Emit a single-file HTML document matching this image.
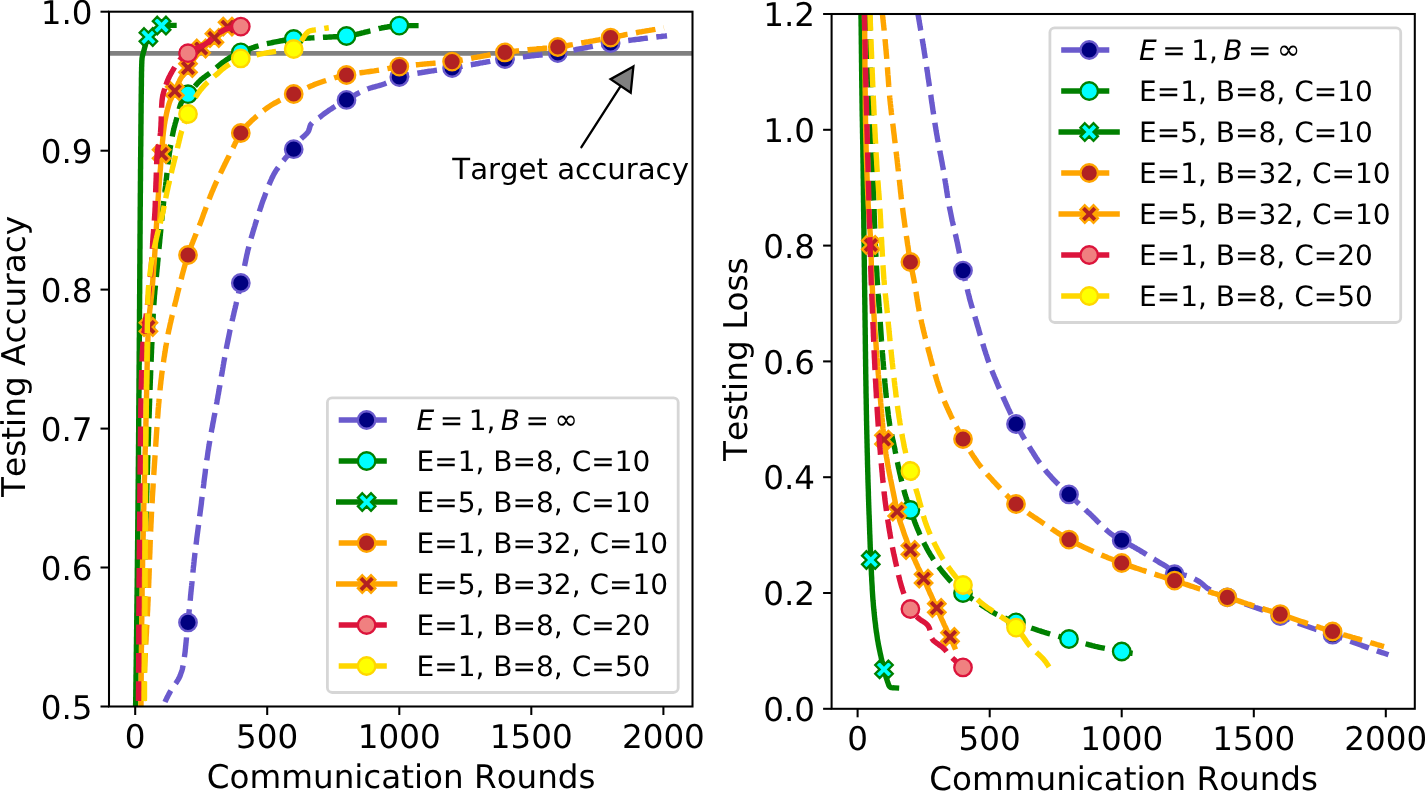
<!DOCTYPE html>
<html lang="en">
<head>
<meta charset="utf-8">
<title>Testing accuracy and loss vs communication rounds</title>
<style>html,body{margin:0;padding:0;background:#fff;}body{width:1425px;height:791px;overflow:hidden;}svg{display:block;}</style>
</head>
<body>
<svg width="1425" height="791" viewBox="0 0 1425 791" font-family='"DejaVu Sans", "Liberation Sans", sans-serif' fill="#000" text-rendering="geometricPrecision" style="font-kerning:none">
<defs>
<clipPath id="cl"><rect x="109.0" y="11.7" width="583.5" height="694.8"/></clipPath>
<clipPath id="cr"><rect x="831.6" y="14.0" width="583.2" height="694.8"/></clipPath>
</defs>
<rect width="1425" height="791" fill="#fff"/>
<g clip-path="url(#cl)">
<line x1="109.0" y1="53.4" x2="692.5" y2="53.4" stroke="#808080" stroke-width="4.7"/>
<path d="M165.0 702.0L165.6 700.6L166.3 699.3L166.9 697.9L167.6 696.6L168.3 695.2L169.0 693.9L169.7 692.6L170.4 691.3L171.2 690.0L172.0 688.7L172.9 687.5L173.8 686.2L174.6 685.0L175.5 683.7L176.4 682.5L177.2 681.2L178.0 679.9L178.7 678.7L179.4 677.3L180.0 676.0L180.5 674.6L181.0 673.2L181.5 671.8L182.0 670.3L182.4 668.9L182.7 667.4L183.0 665.9L183.3 664.5L183.5 663.0L183.8 661.5L184.0 660.0L184.2 658.6L184.4 657.1L184.6 655.6L184.8 654.1L185.0 652.6L185.2 651.1L185.3 649.6L185.5 648.1L185.6 646.7L185.8 645.2L185.9 643.7L186.1 642.1L186.2 640.6L186.4 639.1L186.5 637.6L186.6 636.1L186.8 634.6L186.9 633.1L187.1 631.6L187.2 630.1L187.3 628.6L187.5 627.1L187.6 625.6L187.8 624.1L187.9 622.6L188.1 621.1L188.2 619.6L188.4 618.1L188.6 616.7L188.7 615.2L188.9 613.7L189.0 612.2L189.2 610.7L189.3 609.2L189.5 607.7L189.6 606.2L189.8 604.7L189.9 603.2L190.1 601.7L190.2 600.2L190.4 598.7L190.5 597.2L190.6 595.7L190.8 594.2L190.9 592.7L191.1 591.2L191.2 589.7L191.4 588.2L191.5 586.7L191.7 585.3L191.8 583.8L192.0 582.3L192.1 580.8L192.3 579.3L192.4 577.8L192.6 576.3L192.7 574.8L192.9 573.3L193.0 571.8L193.1 570.3L193.3 568.8L193.4 567.3L193.6 565.8L193.8 564.3L193.9 562.8L194.1 561.3L194.2 559.8L194.4 558.3L194.6 556.9L194.7 555.4L194.9 553.9L195.1 552.4L195.3 550.9L195.5 549.4L195.6 547.9L195.8 546.4L196.0 544.9L196.2 543.4L196.4 541.9L196.6 540.4L196.7 539.0L196.9 537.5L197.1 536.0L197.3 534.5L197.5 533.0L197.7 531.5L197.9 530.0L198.1 528.5L198.3 527.0L198.5 525.5L198.7 524.1L198.9 522.6L199.1 521.1L199.2 519.6L199.4 518.1L199.6 516.6L199.8 515.1L200.0 513.6L200.2 512.1L200.4 510.6L200.6 509.2L200.8 507.7L201.0 506.2L201.2 504.7L201.4 503.2L201.5 501.7L201.7 500.2L201.9 498.7L202.1 497.2L202.3 495.7L202.5 494.2L202.7 492.7L202.8 491.3L203.0 489.8L203.2 488.3L203.4 486.8L203.6 485.3L203.8 483.8L203.9 482.3L204.1 480.8L204.3 479.3L204.5 477.8L204.7 476.3L204.9 474.8L205.1 473.4L205.3 471.9L205.4 470.4L205.6 468.9L205.8 467.4L206.0 465.9L206.2 464.4L206.4 462.9L206.6 461.4L206.8 460.0L207.1 458.5L207.3 457.0L207.5 455.5L207.7 454.0L207.9 452.5L208.1 451.0L208.4 449.6L208.6 448.1L208.8 446.6L209.1 445.1L209.3 443.6L209.6 442.1L209.8 440.7L210.1 439.2L210.3 437.7L210.6 436.2L210.8 434.7L211.1 433.3L211.4 431.8L211.6 430.3L211.9 428.8L212.2 427.4L212.5 425.9L212.7 424.4L213.0 422.9L213.3 421.4L213.6 420.0L213.8 418.5L214.1 417.0L214.4 415.5L214.7 414.1L214.9 412.6L215.2 411.1L215.5 409.6L215.8 408.1L216.0 406.7L216.3 405.2L216.6 403.7L216.9 402.2L217.1 400.8L217.4 399.3L217.7 397.8L217.9 396.3L218.2 394.8L218.5 393.4L218.7 391.9L219.0 390.4L219.2 388.9L219.5 387.4L219.8 386.0L220.0 384.5L220.3 383.0L220.5 381.5L220.8 380.0L221.0 378.6L221.3 377.1L221.5 375.6L221.8 374.1L222.1 372.6L222.3 371.1L222.6 369.7L222.8 368.2L223.1 366.7L223.3 365.2L223.6 363.7L223.8 362.3L224.1 360.8L224.4 359.3L224.6 357.8L224.9 356.3L225.2 354.9L225.4 353.4L225.7 351.9L226.0 350.4L226.3 349.0L226.5 347.5L226.8 346.0L227.1 344.5L227.4 343.1L227.7 341.6L228.0 340.1L228.3 338.6L228.6 337.2L228.9 335.7L229.2 334.2L229.5 332.8L229.8 331.3L230.1 329.8L230.5 328.4L230.8 326.9L231.1 325.4L231.4 324.0L231.8 322.5L232.1 321.0L232.4 319.6L232.8 318.1L233.1 316.6L233.5 315.2L233.8 313.7L234.1 312.2L234.5 310.8L234.8 309.3L235.2 307.9L235.5 306.4L235.9 304.9L236.2 303.5L236.5 302.0L236.9 300.5L237.2 299.1L237.6 297.6L237.9 296.1L238.3 294.7L238.6 293.2L239.0 291.8L239.3 290.3L239.6 288.8L240.0 287.4L240.3 285.9L240.7 284.4L241.0 283.0L241.3 281.5L241.6 280.0L242.0 278.6L242.3 277.1L242.6 275.6L242.9 274.2L243.2 272.7L243.5 271.2L243.8 269.7L244.1 268.3L244.4 266.8L244.7 265.3L245.0 263.8L245.3 262.4L245.6 260.9L245.9 259.4L246.2 258.0L246.5 256.5L246.8 255.0L247.2 253.6L247.5 252.1L247.8 250.6L248.2 249.2L248.6 247.7L248.9 246.3L249.3 244.8L249.7 243.4L250.1 241.9L250.5 240.5L250.9 239.0L251.3 237.6L251.7 236.1L252.2 234.7L252.6 233.2L253.0 231.8L253.4 230.4L253.9 228.9L254.3 227.5L254.8 226.0L255.2 224.6L255.6 223.2L256.1 221.7L256.5 220.3L257.0 218.9L257.4 217.4L257.9 216.0L258.3 214.6L258.8 213.1L259.3 211.7L259.7 210.3L260.2 208.9L260.7 207.4L261.2 206.0L261.6 204.6L262.1 203.2L262.6 201.7L263.1 200.3L263.7 198.9L264.2 197.5L264.7 196.1L265.2 194.7L265.7 193.3L266.3 191.9L266.8 190.4L267.3 189.0L267.9 187.6L268.4 186.2L269.0 184.8L269.6 183.4L270.2 182.0L270.8 180.6L271.4 179.3L272.0 177.9L272.7 176.6L273.3 175.3L274.0 174.0L274.8 172.7L275.5 171.4L276.3 170.1L277.2 168.9L278.0 167.7L278.9 166.4L279.8 165.2L280.7 164.0L281.7 162.8L282.6 161.6L283.6 160.5L284.5 159.3L285.5 158.1L286.4 157.0L287.4 155.9L288.5 154.8L289.5 153.7L290.6 152.6L291.6 151.5L292.6 150.4L293.6 149.2L294.5 148.0L295.3 146.8L296.2 145.6L297.0 144.3L297.8 143.0L298.7 141.8L299.5 140.6L300.5 139.4L301.6 138.3L302.7 137.3L303.9 136.2L305.0 135.2L306.1 134.1L307.1 133.0L308.0 131.9L308.7 130.7L309.2 129.2L309.6 127.7L310.0 126.2L310.5 124.9L311.3 123.8L312.3 122.7L313.4 121.8L314.6 120.8L315.9 119.9L317.2 119.0L318.5 118.1L319.8 117.2L320.9 116.3L322.1 115.3L323.3 114.4L324.5 113.5L325.7 112.6L327.0 111.8L328.2 110.9L329.4 110.0L330.7 109.2L331.9 108.4L333.2 107.5L334.4 106.8L335.7 106.0L337.0 105.2L338.3 104.4L339.6 103.7L340.9 103.0L342.2 102.2L343.6 101.5L344.9 100.8L346.2 100.0L347.5 99.3L348.8 98.5L350.1 97.8L351.4 97.0L352.7 96.3L354.0 95.5L355.3 94.8L356.7 94.0L358.0 93.3L359.3 92.6L360.7 91.9L362.0 91.2L363.4 90.6L364.7 90.0L366.1 89.5L367.5 88.9L368.9 88.5L370.3 88.0L371.8 87.6L373.2 87.2L374.7 86.8L376.1 86.4L377.6 86.0L379.1 85.6L380.5 85.2L381.9 84.7L383.4 84.2L384.8 83.7L386.1 83.1L387.5 82.5L388.9 81.8L390.2 81.1L391.6 80.4L392.9 79.7L394.3 79.0L395.6 78.4L397.0 77.8L398.4 77.3L399.8 76.9" fill="none" stroke="#6A5ACD" stroke-width="5.40" stroke-dasharray="19.8 8.5" stroke-dashoffset="7.0" stroke-linejoin="round"/>
<path d="M399.8 76.9L401.2 76.5L402.7 76.1L404.1 75.8L405.6 75.5L407.0 75.1L408.5 74.8L410.0 74.5L411.5 74.3L413.0 74.0L414.4 73.7L415.9 73.5L417.4 73.2L418.9 73.0L420.4 72.8L421.9 72.5L423.4 72.3L424.9 72.0L426.4 71.8L427.8 71.5L429.3 71.3L430.8 71.1L432.3 70.9L433.8 70.7L435.3 70.4L436.8 70.2L438.3 70.0L439.7 69.8L441.2 69.6L442.7 69.4L444.2 69.2L445.7 69.0L447.2 68.8L448.7 68.6L450.2 68.3L451.6 68.1" fill="none" stroke="#6A5ACD" stroke-width="5.40" stroke-dasharray="19.8 8.5" stroke-dashoffset="-18.0" stroke-linejoin="round"/>
<path d="M451.6 68.1L453.1 67.9L454.6 67.6L456.1 67.4L457.6 67.1L459.1 66.9L460.5 66.6L462.0 66.4L463.5 66.1L465.0 65.8L466.5 65.6L467.9 65.3L469.4 65.0L470.9 64.8L472.4 64.5L473.8 64.2L475.3 64.0L476.8 63.7L478.3 63.5L479.8 63.2L481.2 62.9L482.7 62.7L484.2 62.4L485.7 62.2L487.2 61.9L488.6 61.6L490.1 61.4L491.6 61.1L493.1 60.9L494.6 60.6L496.1 60.4L497.5 60.1L499.0 59.9L500.5 59.7L502.0 59.4L503.5 59.2L505.0 59.0" fill="none" stroke="#6A5ACD" stroke-width="5.40" stroke-dasharray="19.8 8.5" stroke-dashoffset="-19.5" stroke-linejoin="round"/>
<path d="M505.0 59.0L506.5 58.8L507.9 58.6L509.4 58.4L510.9 58.2L512.4 58.1L513.9 57.9L515.4 57.7L516.9 57.6L518.4 57.4L519.9 57.2L521.4 57.1L522.9 56.9L524.4 56.7L525.9 56.6L527.4 56.4L528.8 56.2L530.3 56.1L531.8 55.9L533.3 55.7L534.8 55.6L536.3 55.4L537.8 55.3L539.3 55.1L540.8 55.0L542.3 54.8L543.8 54.6L545.3 54.5L546.8 54.3L548.3 54.2L549.8 54.0L551.3 53.8L552.8 53.6L554.2 53.5L555.7 53.3L557.2 53.1" fill="none" stroke="#6A5ACD" stroke-width="5.40" stroke-dasharray="19.8 8.5" stroke-dashoffset="-18.0" stroke-linejoin="round"/>
<path d="M557.2 53.1L558.7 52.8L560.2 52.6L561.7 52.4L563.1 52.1L564.6 51.9L566.1 51.6L567.6 51.3L569.0 51.0L570.5 50.7L572.0 50.4L573.5 50.1L574.9 49.8L576.4 49.5L577.9 49.2L579.4 48.9L580.8 48.6L582.3 48.3L583.8 48.0L585.3 47.8L586.7 47.5L588.2 47.2L589.7 46.9L591.2 46.6L592.6 46.3L594.1 46.0L595.6 45.7L597.1 45.4L598.5 45.2L600.0 44.9L601.5 44.6L603.0 44.3L604.4 44.0L605.9 43.8L607.4 43.5L608.9 43.3L610.4 43.0" fill="none" stroke="#6A5ACD" stroke-width="5.40" stroke-dasharray="19.8 8.5" stroke-dashoffset="-16.5" stroke-linejoin="round"/>
<path d="M610.4 43.0L611.9 42.8L613.3 42.6L614.8 42.4L616.3 42.1L617.8 41.9L619.3 41.7L620.8 41.5L622.3 41.3L623.7 41.1L625.2 40.9L626.7 40.7L628.2 40.5L629.7 40.3L631.2 40.1L632.7 39.9L634.2 39.7L635.7 39.5L637.2 39.4L638.7 39.2L640.1 39.0L641.6 38.8L643.1 38.6L644.6 38.4L646.1 38.2L647.6 38.1L649.1 37.9L650.6 37.7L652.1 37.5L653.6 37.3L655.1 37.2L656.5 37.0L658.0 36.8L659.5 36.6L661.0 36.5L662.5 36.3L664.0 36.1L665.5 36.0L667.0 35.8" fill="none" stroke="#6A5ACD" stroke-width="5.40" stroke-dasharray="19.8 8.5" stroke-dashoffset="-18.0" stroke-linejoin="round"/>
<circle cx="188.0" cy="622.4" r="8.74" fill="#000080" stroke="#6A5ACD" stroke-width="2.33"/>
<circle cx="240.8" cy="283.0" r="8.74" fill="#000080" stroke="#6A5ACD" stroke-width="2.33"/>
<circle cx="293.7" cy="149.2" r="8.74" fill="#000080" stroke="#6A5ACD" stroke-width="2.33"/>
<circle cx="346.5" cy="99.9" r="8.74" fill="#000080" stroke="#6A5ACD" stroke-width="2.33"/>
<circle cx="399.3" cy="77.0" r="8.74" fill="#000080" stroke="#6A5ACD" stroke-width="2.33"/>
<circle cx="452.1" cy="68.0" r="8.74" fill="#000080" stroke="#6A5ACD" stroke-width="2.33"/>
<circle cx="504.9" cy="59.0" r="8.74" fill="#000080" stroke="#6A5ACD" stroke-width="2.33"/>
<circle cx="557.8" cy="53.0" r="8.74" fill="#000080" stroke="#6A5ACD" stroke-width="2.33"/>
<circle cx="610.6" cy="43.0" r="8.74" fill="#000080" stroke="#6A5ACD" stroke-width="2.33"/>
<path d="M142.0 707.0L142.0 705.5L142.0 704.0L142.1 702.5L142.1 701.0L142.1 699.5L142.1 698.0L142.2 696.5L142.2 695.0L142.2 693.5L142.2 692.0L142.3 690.5L142.3 689.0L142.3 687.4L142.3 685.9L142.4 684.4L142.4 682.9L142.4 681.4L142.4 679.9L142.5 678.4L142.5 676.9L142.5 675.4L142.5 673.9L142.6 672.4L142.6 670.9L142.6 669.4L142.6 667.9L142.7 666.4L142.7 664.9L142.7 663.4L142.8 661.9L142.8 660.4L142.8 658.9L142.8 657.4L142.9 655.9L142.9 654.4L142.9 652.9L143.0 651.4L143.0 649.8L143.0 648.3L143.0 646.8L143.1 645.3L143.1 643.8L143.1 642.3L143.2 640.8L143.2 639.3L143.2 637.8L143.2 636.3L143.3 634.8L143.3 633.3L143.3 631.8L143.4 630.3L143.4 628.8L143.4 627.3L143.5 625.8L143.5 624.3L143.5 622.8L143.6 621.3L143.6 619.8L143.6 618.3L143.6 616.8L143.7 615.3L143.7 613.8L143.7 612.3L143.8 610.7L143.8 609.2L143.8 607.7L143.9 606.2L143.9 604.7L143.9 603.2L144.0 601.7L144.0 600.2L144.0 598.7L144.1 597.2L144.1 595.7L144.1 594.2L144.2 592.7L144.2 591.2L144.2 589.7L144.3 588.2L144.3 586.7L144.3 585.2L144.4 583.7L144.4 582.2L144.4 580.7L144.5 579.2L144.5 577.7L144.5 576.2L144.6 574.7L144.6 573.2L144.7 571.7L144.7 570.1L144.7 568.6L144.8 567.1L144.8 565.6L144.8 564.1L144.9 562.6L144.9 561.1L145.0 559.6L145.0 558.1L145.0 556.6L145.1 555.1L145.1 553.6L145.2 552.1L145.2 550.6L145.2 549.1L145.3 547.6L145.3 546.1L145.3 544.6L145.4 543.1L145.4 541.6L145.5 540.1L145.5 538.6L145.5 537.1L145.6 535.6L145.6 534.1L145.7 532.6L145.7 531.1L145.7 529.5L145.8 528.0L145.8 526.5L145.9 525.0L145.9 523.5L145.9 522.0L146.0 520.5L146.0 519.0L146.1 517.5L146.1 516.0L146.1 514.5L146.2 513.0L146.2 511.5L146.3 510.0L146.3 508.5L146.4 507.0L146.4 505.5L146.4 504.0L146.5 502.5L146.5 501.0L146.6 499.5L146.6 498.0L146.6 496.5L146.7 495.0L146.7 493.5L146.8 492.0L146.8 490.5L146.9 489.0L146.9 487.4L146.9 485.9L147.0 484.4L147.0 482.9L147.1 481.4L147.1 479.9L147.2 478.4L147.2 476.9L147.2 475.4L147.3 473.9L147.3 472.4L147.4 470.9L147.4 469.4L147.5 467.9L147.5 466.4L147.5 464.9L147.6 463.4L147.6 461.9L147.7 460.4L147.7 458.9L147.8 457.4L147.8 455.9L147.9 454.4L147.9 452.9L148.0 451.4L148.0 449.9L148.1 448.4L148.1 446.9L148.1 445.3L148.2 443.8L148.2 442.3L148.3 440.8L148.3 439.3L148.4 437.8L148.4 436.3L148.5 434.8L148.5 433.3L148.6 431.8L148.6 430.3L148.7 428.8L148.7 427.3L148.8 425.8L148.8 424.3L148.9 422.8L148.9 421.3L149.0 419.8L149.0 418.3L149.1 416.8L149.1 415.3L149.2 413.8L149.2 412.3L149.3 410.8L149.3 409.3L149.4 407.8L149.4 406.3L149.5 404.8L149.5 403.3L149.6 401.8L149.6 400.2L149.7 398.7L149.7 397.2L149.8 395.7L149.8 394.2L149.9 392.7L150.0 391.2L150.0 389.7L150.1 388.2L150.1 386.7L150.2 385.2L150.2 383.7L150.3 382.2L150.3 380.7L150.4 379.2L150.5 377.7L150.5 376.2L150.6 374.7L150.6 373.2L150.7 371.7L150.7 370.2L150.8 368.7L150.9 367.2L150.9 365.7L151.0 364.2L151.0 362.7L151.1 361.2L151.2 359.7L151.2 358.2L151.3 356.7L151.3 355.2L151.4 353.7L151.5 352.2L151.5 350.6L151.6 349.1L151.7 347.6L151.7 346.1L151.8 344.6L151.9 343.1L151.9 341.6L152.0 340.1L152.1 338.6L152.1 337.1L152.2 335.6L152.3 334.1L152.3 332.6L152.4 331.1L152.5 329.6L152.5 328.1L152.6 326.6L152.7 325.1L152.8 323.6L152.8 322.1L152.9 320.6L153.0 319.1L153.1 317.6L153.2 316.1L153.2 314.6L153.3 313.1L153.4 311.6L153.5 310.1L153.6 308.6L153.7 307.1L153.8 305.6L153.9 304.1L154.0 302.6L154.1 301.1L154.2 299.6L154.3 298.1L154.4 296.6L154.5 295.1L154.7 293.6L154.8 292.1L154.9 290.6L155.1 289.1L155.2 287.6L155.4 286.1L155.5 284.6L155.7 283.1L155.8 281.6L156.0 280.1L156.1 278.6L156.3 277.1L156.5 275.6L156.6 274.1L156.7 272.6L156.9 271.1L157.0 269.6L157.2 268.1L157.3 266.6L157.5 265.1L157.6 263.6L157.7 262.1L157.9 260.6L158.0 259.1L158.1 257.6L158.3 256.1L158.4 254.7L158.6 253.2L158.7 251.7L158.8 250.2L159.0 248.7L159.1 247.2L159.3 245.7L159.4 244.2L159.6 242.7L159.7 241.2L159.8 239.7L160.0 238.2L160.1 236.7L160.3 235.2L160.4 233.7L160.6 232.2L160.7 230.7L160.9 229.2L161.0 227.7L161.1 226.2L161.3 224.7L161.4 223.2L161.6 221.7L161.7 220.2L161.9 218.7L162.0 217.2L162.2 215.7L162.3 214.2L162.5 212.7L162.7 211.2L162.8 209.7L163.0 208.2L163.1 206.7L163.3 205.3L163.5 203.8L163.6 202.3L163.8 200.8L164.0 199.3L164.1 197.8L164.3 196.3L164.5 194.8L164.7 193.3L164.9 191.8L165.0 190.3L165.2 188.8L165.4 187.3L165.6 185.8L165.7 184.3L165.9 182.8L166.1 181.3L166.2 179.9L166.4 178.4L166.6 176.9L166.7 175.4L166.9 173.9L167.1 172.4L167.2 170.9L167.4 169.4L167.5 167.9L167.7 166.4L167.9 164.9L168.1 163.4L168.2 161.9L168.4 160.4L168.6 158.9L168.8 157.4L169.0 155.9L169.2 154.5L169.4 153.0L169.7 151.5L169.9 150.0L170.1 148.5L170.4 147.0L170.6 145.5L170.9 144.0L171.1 142.6L171.4 141.1L171.7 139.6L171.9 138.1L172.2 136.6L172.5 135.2L172.8 133.7L173.1 132.2L173.4 130.8L173.8 129.3L174.1 127.8L174.5 126.4L174.9 124.9L175.2 123.5L175.7 122.0L176.1 120.6L176.5 119.1L176.9 117.7L177.3 116.2L177.7 114.8L178.1 113.3L178.5 111.8L178.9 110.3L179.3 108.8L179.7 107.3L180.1 105.9L180.6 104.4L181.1 103.1L181.6 101.8L182.3 100.5L183.1 99.3L184.1 98.2L185.2 97.1L186.3 96.0L187.4 94.9L188.4 93.8L189.4 92.6L190.4 91.5L191.3 90.3L192.3 89.2L193.3 88.0L194.3 86.9L195.3 85.7L196.3 84.6L197.3 83.5L198.3 82.4L199.4 81.3L200.4 80.3L201.5 79.3L202.7 78.4L203.9 77.5L205.1 76.6L206.3 75.7L207.6 74.8L208.8 73.9L210.0 73.0L211.1 72.1L212.3 71.1L213.5 70.1L214.6 69.1L215.7 68.2L216.9 67.2L218.0 66.2L219.2 65.2L220.3 64.3L221.5 63.4L222.7 62.5L223.9 61.6L225.2 60.7L226.4 59.8L227.7 59.0L228.9 58.2L230.2 57.4L231.5 56.7L232.9 56.0L234.2 55.3L235.6 54.7L236.9 54.1L238.3 53.5L239.7 52.9L241.1 52.3L242.5 51.7L243.9 51.1L245.3 50.5L246.7 50.0L248.1 49.4L249.5 48.9L250.9 48.4L252.3 47.8L253.7 47.4L255.1 46.9L256.6 46.4L258.0 46.0L259.5 45.6L260.9 45.2L262.4 44.8L263.8 44.4L265.3 44.1L266.7 43.7L268.2 43.4L269.7 43.1L271.2 42.8L272.6 42.5L274.1 42.2L275.6 41.9L277.1 41.6L278.5 41.3L280.0 41.0L281.5 40.8L283.0 40.5L284.5 40.2L286.0 40.0L287.4 39.8L288.9 39.5L290.4 39.3L291.9 39.2L293.4 39.0L294.9 38.9L296.4 38.8L297.9 38.7L299.4 38.6L300.9 38.5L302.4 38.4L303.9 38.3L305.4 38.2L306.9 38.1L308.4 38.1L309.9 38.0L311.4 37.9L312.9 37.9L314.4 37.8L315.9 37.7L317.4 37.6L318.9 37.6L320.4 37.5L321.9 37.4L323.4 37.3L325.0 37.2L326.5 37.2L328.0 37.1L329.5 37.0L331.0 37.0L332.5 36.9L334.0 36.8L335.5 36.7L337.0 36.7L338.5 36.6L340.0 36.5L341.5 36.4L343.0 36.3L344.5 36.2L346.0 36.0L347.5 35.9L348.9 35.7L350.4 35.5L351.9 35.3L353.4 35.0L354.9 34.7L356.3 34.4L357.8 34.0L359.3 33.7L360.7 33.3L362.2 32.9L363.7 32.6L365.1 32.2L366.6 31.8L368.1 31.5L369.5 31.1L371.0 30.8L372.4 30.4L373.9 30.0L375.4 29.6L376.8 29.2L378.3 28.8L379.7 28.4L381.2 28.1L382.6 27.7L384.1 27.5L385.6 27.2L387.1 27.0L388.6 26.7L390.1 26.5L391.6 26.2L393.1 26.0L394.5 25.9L396.0 25.7L397.5 25.6L399.0 25.6L400.5 25.6L402.0 25.6L403.5 25.6L405.0 25.6L406.5 25.6L408.1 25.6L409.6 25.6L411.1 25.6L412.6 25.6L414.1 25.6L415.6 25.6L417.1 25.6L418.6 25.6" fill="none" stroke="#008000" stroke-width="5.40" stroke-dasharray="19.8 8.5" stroke-dashoffset="-6.0" stroke-linejoin="round"/>
<circle cx="188.0" cy="94.2" r="8.74" fill="#00FFFF" stroke="#008000" stroke-width="2.33"/>
<circle cx="240.8" cy="52.4" r="8.74" fill="#00FFFF" stroke="#008000" stroke-width="2.33"/>
<circle cx="293.7" cy="39.0" r="8.74" fill="#00FFFF" stroke="#008000" stroke-width="2.33"/>
<circle cx="346.5" cy="36.0" r="8.74" fill="#00FFFF" stroke="#008000" stroke-width="2.33"/>
<circle cx="399.3" cy="25.6" r="8.74" fill="#00FFFF" stroke="#008000" stroke-width="2.33"/>
<path d="M135.6 707.0L135.6 705.5L135.6 704.0L135.7 702.5L135.7 701.0L135.7 699.5L135.7 698.0L135.8 696.5L135.8 695.0L135.8 693.5L135.8 692.0L135.8 690.5L135.9 688.9L135.9 687.4L135.9 685.9L135.9 684.4L135.9 682.9L136.0 681.4L136.0 679.9L136.0 678.4L136.0 676.9L136.0 675.4L136.1 673.9L136.1 672.4L136.1 670.9L136.1 669.4L136.1 667.9L136.2 666.4L136.2 664.9L136.2 663.4L136.2 661.9L136.2 660.4L136.3 658.9L136.3 657.4L136.3 655.9L136.3 654.4L136.3 652.8L136.4 651.3L136.4 649.8L136.4 648.3L136.4 646.8L136.4 645.3L136.5 643.8L136.5 642.3L136.5 640.8L136.5 639.3L136.5 637.8L136.6 636.3L136.6 634.8L136.6 633.3L136.6 631.8L136.6 630.3L136.7 628.8L136.7 627.3L136.7 625.8L136.7 624.3L136.7 622.8L136.7 621.3L136.8 619.8L136.8 618.3L136.8 616.7L136.8 615.2L136.8 613.7L136.9 612.2L136.9 610.7L136.9 609.2L136.9 607.7L136.9 606.2L136.9 604.7L137.0 603.2L137.0 601.7L137.0 600.2L137.0 598.7L137.0 597.2L137.0 595.7L137.1 594.2L137.1 592.7L137.1 591.2L137.1 589.7L137.1 588.2L137.2 586.7L137.2 585.2L137.2 583.7L137.2 582.2L137.2 580.6L137.2 579.1L137.3 577.6L137.3 576.1L137.3 574.6L137.3 573.1L137.3 571.6L137.3 570.1L137.3 568.6L137.4 567.1L137.4 565.6L137.4 564.1L137.4 562.6L137.4 561.1L137.4 559.6L137.5 558.1L137.5 556.6L137.5 555.1L137.5 553.6L137.5 552.1L137.5 550.6L137.6 549.1L137.6 547.6L137.6 546.0L137.6 544.5L137.6 543.0L137.6 541.5L137.7 540.0L137.7 538.5L137.7 537.0L137.7 535.5L137.7 534.0L137.7 532.5L137.7 531.0L137.8 529.5L137.8 528.0L137.8 526.5L137.8 525.0L137.8 523.5L137.8 522.0L137.8 520.5L137.9 519.0L137.9 517.5L137.9 516.0L137.9 514.5L137.9 513.0L137.9 511.5L138.0 509.9L138.0 508.4L138.0 506.9L138.0 505.4L138.0 503.9L138.0 502.4L138.0 500.9L138.1 499.4L138.1 497.9L138.1 496.4L138.1 494.9L138.1 493.4L138.1 491.9L138.1 490.4L138.2 488.9L138.2 487.4L138.2 485.9L138.2 484.4L138.2 482.9L138.2 481.4L138.2 479.9L138.3 478.4L138.3 476.9L138.3 475.3L138.3 473.8L138.3 472.3L138.3 470.8L138.3 469.3L138.3 467.8L138.4 466.3L138.4 464.8L138.4 463.3L138.4 461.8L138.4 460.3L138.4 458.8L138.4 457.3L138.5 455.8L138.5 454.3L138.5 452.8L138.5 451.3L138.5 449.8L138.5 448.3L138.5 446.8L138.5 445.3L138.6 443.8L138.6 442.3L138.6 440.8L138.6 439.2L138.6 437.7L138.6 436.2L138.6 434.7L138.6 433.2L138.7 431.7L138.7 430.2L138.7 428.7L138.7 427.2L138.7 425.7L138.7 424.2L138.7 422.7L138.7 421.2L138.7 419.7L138.8 418.2L138.8 416.7L138.8 415.2L138.8 413.7L138.8 412.2L138.8 410.7L138.8 409.2L138.8 407.7L138.8 406.2L138.9 404.6L138.9 403.1L138.9 401.6L138.9 400.1L138.9 398.6L138.9 397.1L138.9 395.6L138.9 394.1L139.0 392.6L139.0 391.1L139.0 389.6L139.0 388.1L139.0 386.6L139.0 385.1L139.0 383.6L139.0 382.1L139.0 380.6L139.0 379.1L139.1 377.6L139.1 376.1L139.1 374.6L139.1 373.1L139.1 371.6L139.1 370.1L139.1 368.5L139.1 367.0L139.1 365.5L139.2 364.0L139.2 362.5L139.2 361.0L139.2 359.5L139.2 358.0L139.2 356.5L139.2 355.0L139.2 353.5L139.2 352.0L139.3 350.5L139.3 349.0L139.3 347.5L139.3 346.0L139.3 344.5L139.3 343.0L139.3 341.5L139.3 340.0L139.3 338.5L139.4 337.0L139.4 335.5L139.4 333.9L139.4 332.4L139.4 330.9L139.4 329.4L139.4 327.9L139.4 326.4L139.4 324.9L139.4 323.4L139.5 321.9L139.5 320.4L139.5 318.9L139.5 317.4L139.5 315.9L139.5 314.4L139.5 312.9L139.5 311.4L139.5 309.9L139.6 308.4L139.6 306.9L139.6 305.4L139.6 303.9L139.6 302.4L139.6 300.9L139.6 299.3L139.6 297.8L139.6 296.3L139.6 294.8L139.7 293.3L139.7 291.8L139.7 290.3L139.7 288.8L139.7 287.3L139.7 285.8L139.7 284.3L139.7 282.8L139.7 281.3L139.7 279.8L139.8 278.3L139.8 276.8L139.8 275.3L139.8 273.8L139.8 272.3L139.8 270.8L139.8 269.3L139.8 267.8L139.8 266.3L139.8 264.8L139.9 263.2L139.9 261.7L139.9 260.2L139.9 258.7L139.9 257.2L139.9 255.7L139.9 254.2L139.9 252.7L139.9 251.2L139.9 249.7L140.0 248.2L140.0 246.7L140.0 245.2L140.0 243.7L140.0 242.2L140.0 240.7L140.0 239.2L140.0 237.7L140.0 236.2L140.0 234.7L140.1 233.2L140.1 231.7L140.1 230.2L140.1 228.6L140.1 227.1L140.1 225.6L140.1 224.1L140.1 222.6L140.1 221.1L140.2 219.6L140.2 218.1L140.2 216.6L140.2 215.1L140.2 213.6L140.2 212.1L140.2 210.6L140.2 209.1L140.2 207.6L140.3 206.1L140.3 204.6L140.3 203.1L140.3 201.6L140.3 200.1L140.3 198.6L140.3 197.1L140.3 195.6L140.3 194.0L140.4 192.5L140.4 191.0L140.4 189.5L140.4 188.0L140.4 186.5L140.4 185.0L140.4 183.5L140.4 182.0L140.5 180.5L140.5 179.0L140.5 177.5L140.5 176.0L140.5 174.5L140.5 173.0L140.5 171.5L140.5 170.0L140.6 168.5L140.6 167.0L140.6 165.5L140.6 164.0L140.6 162.5L140.6 161.0L140.6 159.5L140.6 157.9L140.7 156.4L140.7 154.9L140.7 153.4L140.7 151.9L140.7 150.4L140.7 148.9L140.7 147.4L140.8 145.9L140.8 144.4L140.8 142.9L140.8 141.4L140.8 139.9L140.8 138.4L140.8 136.9L140.9 135.4L140.9 133.9L140.9 132.4L140.9 130.9L140.9 129.4L140.9 127.9L140.9 126.4L140.9 124.9L141.0 123.3L141.0 121.8L141.0 120.3L141.0 118.8L141.0 117.3L141.0 115.8L141.0 114.3L141.1 112.8L141.1 111.3L141.1 109.8L141.1 108.3L141.1 106.8L141.1 105.3L141.1 103.8L141.2 102.3L141.2 100.8L141.2 99.3L141.2 97.8L141.2 96.3L141.2 94.8L141.3 93.3L141.3 91.8L141.3 90.3L141.3 88.8L141.3 87.2L141.4 85.7L141.4 84.2L141.4 82.7L141.4 81.2L141.4 79.7L141.4 78.2L141.5 76.7L141.5 75.2L141.5 73.7L141.5 72.1L141.6 70.6L141.6 69.1L141.6 67.6L141.7 66.1L141.7 64.6L141.8 63.1L141.8 61.7L141.9 60.2L142.0 58.7L142.2 57.2L142.5 55.7L142.9 54.3L143.3 52.8L143.7 51.3L144.1 49.9L144.5 48.4L144.9 46.9L145.3 45.5L145.7 44.0L146.2 42.5L146.6 41.1L147.2 39.7L147.8 38.3L148.4 37.0L149.1 35.8L150.0 34.6L151.0 33.5L152.1 32.4L153.3 31.3L154.4 30.3L155.5 29.3L156.7 28.3L158.0 27.2L159.3 26.3L160.6 25.7L161.9 25.5L163.3 25.5L164.7 25.5L166.2 25.4L167.7 25.4L169.2 25.4L170.8 25.4L172.4 25.4L174.0 25.4" fill="none" stroke="#008000" stroke-width="5.40" stroke-linecap="square" stroke-linejoin="round"/>
<polygon points="144.03,28.26 148.40,32.63 152.77,28.26 157.14,32.63 152.77,37.00 157.14,41.37 152.77,45.74 148.40,41.37 144.03,45.74 139.66,41.37 144.03,37.00 139.66,32.63" fill="#00FFFF" stroke="#008000" stroke-width="2.33" stroke-linejoin="miter"/>
<polygon points="157.23,16.76 161.60,21.13 165.97,16.76 170.34,21.13 165.97,25.50 170.34,29.87 165.97,34.24 161.60,29.87 157.23,34.24 152.86,29.87 157.23,25.50 152.86,21.13" fill="#00FFFF" stroke="#008000" stroke-width="2.33" stroke-linejoin="miter"/>
<path d="M143.0 707.0L143.1 705.5L143.1 704.0L143.2 702.5L143.2 701.0L143.3 699.5L143.4 698.0L143.4 696.5L143.5 695.0L143.5 693.5L143.6 692.0L143.7 690.5L143.7 689.0L143.8 687.5L143.8 686.0L143.9 684.5L144.0 683.0L144.0 681.5L144.1 680.0L144.2 678.5L144.2 677.0L144.3 675.5L144.4 674.0L144.4 672.5L144.5 671.0L144.6 669.5L144.6 668.0L144.7 666.5L144.8 665.0L144.8 663.5L144.9 662.0L145.0 660.5L145.0 658.9L145.1 657.4L145.2 655.9L145.3 654.4L145.3 652.9L145.4 651.4L145.5 649.9L145.6 648.4L145.7 646.9L145.7 645.4L145.8 643.9L145.9 642.4L146.0 640.9L146.1 639.4L146.1 637.9L146.2 636.4L146.3 634.9L146.4 633.4L146.5 631.9L146.5 630.4L146.6 628.9L146.7 627.4L146.8 625.9L146.9 624.4L147.0 622.9L147.0 621.4L147.1 619.9L147.2 618.4L147.3 616.9L147.4 615.4L147.4 613.9L147.5 612.4L147.6 610.9L147.7 609.4L147.7 607.9L147.8 606.4L147.9 604.9L147.9 603.4L148.0 601.9L148.1 600.4L148.1 598.9L148.2 597.4L148.3 595.9L148.3 594.4L148.4 592.9L148.4 591.4L148.5 589.9L148.6 588.4L148.6 586.9L148.7 585.4L148.7 583.9L148.8 582.4L148.8 580.9L148.9 579.4L149.0 577.9L149.0 576.4L149.1 574.9L149.1 573.4L149.2 571.9L149.2 570.4L149.3 568.9L149.3 567.4L149.4 565.9L149.4 564.4L149.5 562.9L149.5 561.4L149.6 559.9L149.6 558.4L149.7 556.9L149.7 555.4L149.8 553.9L149.9 552.3L149.9 550.8L150.0 549.3L150.0 547.8L150.1 546.3L150.1 544.8L150.2 543.3L150.2 541.8L150.3 540.3L150.4 538.8L150.4 537.3L150.5 535.8L150.5 534.3L150.6 532.8L150.7 531.3L150.7 529.8L150.8 528.3L150.9 526.8L150.9 525.3L151.0 523.8L151.1 522.3L151.2 520.8L151.2 519.3L151.3 517.8L151.4 516.3L151.4 514.8L151.5 513.3L151.6 511.8L151.7 510.3L151.8 508.8L151.8 507.3L151.9 505.8L152.0 504.3L152.1 502.8L152.2 501.3L152.3 499.8L152.3 498.3L152.4 496.8L152.5 495.3L152.6 493.8L152.7 492.3L152.8 490.8L152.9 489.3L153.0 487.8L153.1 486.3L153.1 484.8L153.2 483.3L153.3 481.8L153.4 480.3L153.5 478.8L153.6 477.3L153.7 475.8L153.8 474.3L153.9 472.8L154.0 471.3L154.1 469.8L154.2 468.3L154.3 466.8L154.4 465.3L154.5 463.8L154.6 462.3L154.7 460.8L154.8 459.3L154.9 457.8L155.0 456.3L155.1 454.8L155.2 453.3L155.3 451.8L155.4 450.3L155.5 448.8L155.6 447.3L155.7 445.8L155.8 444.3L155.9 442.8L156.0 441.3L156.1 439.8L156.2 438.3L156.3 436.8L156.4 435.3L156.5 433.8L156.6 432.3L156.7 430.8L156.8 429.3L156.9 427.8L157.0 426.3L157.1 424.8L157.2 423.3L157.3 421.8L157.4 420.3L157.5 418.8L157.6 417.3L157.8 415.8L157.9 414.3L158.0 412.8L158.1 411.3L158.2 409.8L158.3 408.3L158.5 406.8L158.6 405.3L158.7 403.8L158.9 402.3L159.0 400.8L159.1 399.3L159.3 397.8L159.4 396.3L159.5 394.8L159.7 393.3L159.8 391.9L160.0 390.4L160.1 388.9L160.3 387.4L160.4 385.9L160.6 384.4L160.8 382.9L160.9 381.4L161.1 379.9L161.3 378.4L161.5 376.9L161.6 375.4L161.8 373.9L162.0 372.4L162.2 370.9L162.4 369.5L162.6 368.0L162.8 366.5L163.0 365.0L163.2 363.5L163.5 362.0L163.7 360.5L163.9 359.0L164.1 357.5L164.4 356.1L164.6 354.6L164.8 353.1L165.1 351.6L165.3 350.1L165.5 348.6L165.8 347.1L166.0 345.7L166.3 344.2L166.5 342.7L166.8 341.2L167.0 339.8L167.3 338.3L167.6 336.8L167.9 335.3L168.1 333.9L168.4 332.4L168.7 330.9L169.0 329.4L169.4 328.0L169.7 326.5L170.0 325.0L170.3 323.6L170.7 322.1L171.0 320.6L171.3 319.2L171.7 317.7L172.0 316.2L172.4 314.8L172.7 313.3L173.1 311.8L173.5 310.4L173.8 308.9L174.2 307.5L174.5 306.0L174.9 304.5L175.2 303.1L175.6 301.6L176.0 300.2L176.3 298.7L176.7 297.2L177.0 295.8L177.4 294.3L177.7 292.9L178.1 291.4L178.5 289.9L178.8 288.5L179.2 287.0L179.5 285.5L179.9 284.1L180.3 282.6L180.6 281.2L181.0 279.7L181.4 278.2L181.8 276.8L182.1 275.3L182.5 273.9L182.9 272.4L183.3 271.0L183.7 269.5L184.1 268.1L184.5 266.6L184.9 265.2L185.3 263.7L185.8 262.3L186.2 260.9L186.6 259.4L187.1 258.0L187.5 256.6L188.0 255.1L188.4 253.7L188.9 252.3L189.4 250.9L189.9 249.5L190.4 248.1L190.9 246.7L191.5 245.3L192.0 243.9L192.6 242.5L193.1 241.1L193.7 239.7L194.3 238.3L194.8 236.9L195.4 235.5L196.0 234.1L196.5 232.7L197.1 231.3L197.7 229.9L198.2 228.5L198.8 227.1L199.3 225.7L199.9 224.3L200.4 222.9L200.9 221.5L201.5 220.1L202.0 218.7L202.5 217.3L203.0 215.8L203.5 214.4L204.0 213.0L204.6 211.6L205.1 210.2L205.6 208.8L206.1 207.4L206.6 205.9L207.1 204.5L207.7 203.1L208.2 201.7L208.7 200.3L209.2 198.9L209.8 197.5L210.3 196.1L210.9 194.7L211.5 193.3L212.0 191.9L212.6 190.6L213.2 189.2L213.8 187.8L214.4 186.4L215.0 185.0L215.6 183.7L216.2 182.3L216.9 180.9L217.5 179.6L218.1 178.2L218.8 176.9L219.4 175.5L220.1 174.1L220.7 172.8L221.4 171.4L222.0 170.1L222.7 168.7L223.3 167.4L224.0 166.0L224.6 164.7L225.3 163.3L226.0 162.0L226.6 160.6L227.3 159.3L228.0 157.9L228.7 156.6L229.3 155.2L230.0 153.9L230.7 152.6L231.4 151.2L232.1 149.9L232.7 148.5L233.4 147.2L234.0 145.8L234.7 144.4L235.3 143.0L236.0 141.7L236.7 140.3L237.3 139.0L238.0 137.6L238.7 136.3L239.5 135.0L240.3 133.8L241.1 132.6" fill="none" stroke="#FFA500" stroke-width="5.40" stroke-dasharray="19.8 8.5" stroke-dashoffset="-6.0" stroke-linejoin="round"/>
<path d="M241.1 132.6L241.9 131.4L242.8 130.2L243.8 129.0L244.7 127.9L245.7 126.8L246.7 125.6L247.8 124.5L248.8 123.4L249.9 122.4L251.0 121.3L252.1 120.2L253.2 119.2L254.4 118.2L255.5 117.2L256.6 116.2L257.8 115.2L258.9 114.2L260.0 113.3L261.2 112.3L262.4 111.4L263.6 110.5L264.8 109.6L266.0 108.7L267.3 107.8L268.5 107.0L269.8 106.1L271.0 105.3L272.3 104.5L273.6 103.7L274.9 103.0L276.2 102.3L277.5 101.6L278.8 100.9L280.2 100.2L281.5 99.6L282.9 98.9L284.3 98.3L285.6 97.6L287.0 97.0L288.4 96.4L289.8 95.8L291.1 95.2L292.5 94.5L293.9 93.9" fill="none" stroke="#FFA500" stroke-width="5.40" stroke-dasharray="19.8 8.5" stroke-dashoffset="-3.3" stroke-linejoin="round"/>
<path d="M293.9 93.9L295.2 93.3L296.6 92.7L298.0 92.0L299.3 91.4L300.7 90.7L302.1 90.1L303.4 89.4L304.8 88.8L306.2 88.2L307.5 87.6L308.9 86.9L310.3 86.3L311.7 85.7L313.0 85.2L314.4 84.6L315.8 84.0L317.2 83.5L318.6 83.0L320.0 82.5L321.5 82.0L322.9 81.5L324.3 81.0L325.7 80.6L327.2 80.1L328.6 79.7L330.0 79.2L331.5 78.8L332.9 78.4L334.4 77.9L335.8 77.5L337.3 77.1L338.7 76.8L340.2 76.4L341.7 76.0L343.1 75.7L344.6 75.4L346.1 75.1" fill="none" stroke="#FFA500" stroke-width="5.40" stroke-dasharray="19.8 8.5" stroke-dashoffset="-15.1" stroke-linejoin="round"/>
<path d="M346.1 75.1L347.5 74.8L349.0 74.5L350.5 74.3L352.0 74.0L353.4 73.8L354.9 73.5L356.4 73.3L357.9 73.1L359.4 72.9L360.9 72.7L362.4 72.5L363.8 72.3L365.3 72.1L366.8 71.9L368.3 71.7L369.8 71.5L371.3 71.3L372.8 71.1L374.3 70.9L375.8 70.6L377.3 70.4L378.8 70.2L380.2 70.0L381.7 69.7L383.2 69.4L384.7 69.2L386.2 68.9L387.6 68.6L389.1 68.3L390.6 68.0L392.1 67.8L393.6 67.5L395.0 67.2L396.5 67.0L398.0 66.8L399.5 66.6" fill="none" stroke="#FFA500" stroke-width="5.40" stroke-dasharray="19.8 8.5" stroke-dashoffset="-13.5" stroke-linejoin="round"/>
<path d="M399.5 66.6L401.0 66.4L402.5 66.2L404.0 66.0L405.5 65.9L406.9 65.7L408.4 65.6L409.9 65.4L411.4 65.3L412.9 65.1L414.4 65.0L415.9 64.8L417.4 64.7L418.9 64.6L420.4 64.4L421.9 64.3L423.4 64.1L424.9 64.0L426.4 63.9L427.9 63.7L429.4 63.6L430.9 63.5L432.4 63.4L433.9 63.2L435.4 63.1L436.9 63.0L438.4 62.9L439.9 62.8L441.4 62.6L442.9 62.5L444.4 62.4L445.9 62.3L447.4 62.1L448.9 62.0L450.4 61.8L451.9 61.6" fill="none" stroke="#FFA500" stroke-width="5.40" stroke-dasharray="19.8 8.5" stroke-dashoffset="-16.5" stroke-linejoin="round"/>
<path d="M451.9 61.6L453.3 61.4L454.8 61.2L456.3 61.0L457.8 60.8L459.3 60.5L460.8 60.3L462.2 60.0L463.7 59.7L465.2 59.5L466.7 59.2L468.2 58.9L469.6 58.6L471.1 58.3L472.6 58.0L474.1 57.7L475.5 57.4L477.0 57.2L478.5 56.9L480.0 56.7L481.5 56.4L482.9 56.1L484.4 55.8L485.9 55.6L487.4 55.3L488.9 55.0L490.3 54.8L491.8 54.5L493.3 54.2L494.8 54.0L496.3 53.7L497.7 53.5L499.2 53.2L500.7 53.0L502.2 52.8L503.7 52.6L505.2 52.4" fill="none" stroke="#FFA500" stroke-width="5.40" stroke-dasharray="19.8 8.5" stroke-dashoffset="-19.5" stroke-linejoin="round"/>
<path d="M505.2 52.4L506.7 52.2L508.1 52.0L509.6 51.8L511.1 51.6L512.6 51.4L514.1 51.3L515.6 51.1L517.1 50.9L518.6 50.8L520.1 50.6L521.6 50.5L523.1 50.3L524.6 50.2L526.1 50.0L527.6 49.8L529.1 49.7L530.6 49.5L532.1 49.4L533.6 49.3L535.0 49.1L536.5 49.0L538.0 48.8L539.5 48.7L541.0 48.6L542.5 48.5L544.0 48.3L545.5 48.2L547.0 48.1L548.5 48.0L550.0 47.8L551.5 47.7L553.0 47.5L554.5 47.4L556.0 47.2L557.5 47.0" fill="none" stroke="#FFA500" stroke-width="5.40" stroke-dasharray="19.8 8.5" stroke-dashoffset="-22.5" stroke-linejoin="round"/>
<path d="M557.5 47.0L559.0 46.9L560.5 46.7L562.0 46.4L563.4 46.2L564.9 46.0L566.4 45.7L567.9 45.5L569.4 45.2L570.9 44.9L572.3 44.7L573.8 44.4L575.3 44.1L576.8 43.8L578.2 43.6L579.7 43.3L581.2 43.0L582.7 42.7L584.2 42.5L585.6 42.2L587.1 41.9L588.6 41.7L590.1 41.4L591.6 41.1L593.0 40.9L594.5 40.6L596.0 40.3L597.5 40.1L598.9 39.8L600.4 39.5L601.9 39.2L603.4 39.0L604.9 38.7L606.3 38.4L607.8 38.1L609.3 37.8L610.8 37.6" fill="none" stroke="#FFA500" stroke-width="5.40" stroke-dasharray="19.8 8.5" stroke-dashoffset="-24.1" stroke-linejoin="round"/>
<path d="M610.8 37.6L612.2 37.3L613.7 37.0L615.2 36.7L616.7 36.4L618.1 36.2L619.6 35.9L621.1 35.6L622.6 35.3L624.1 35.0L625.5 34.7L627.0 34.4L628.5 34.2L630.0 33.9L631.4 33.6L632.9 33.3L634.4 33.0L635.9 32.8L637.3 32.5L638.8 32.2L640.3 31.9L641.8 31.7L643.3 31.4L644.7 31.2L646.2 30.9L647.7 30.6L649.2 30.4L650.7 30.1L652.1 29.9L653.6 29.6L655.1 29.4L656.6 29.1L658.1 28.9L659.5 28.6L661.0 28.4L662.5 28.1L664.0 27.9" fill="none" stroke="#FFA500" stroke-width="5.40" stroke-dasharray="19.8 8.5" stroke-dashoffset="-25.6" stroke-linejoin="round"/>
<circle cx="188.0" cy="255.0" r="8.74" fill="#B22222" stroke="#FFA500" stroke-width="2.33"/>
<circle cx="240.8" cy="133.0" r="8.74" fill="#B22222" stroke="#FFA500" stroke-width="2.33"/>
<circle cx="293.7" cy="94.0" r="8.74" fill="#B22222" stroke="#FFA500" stroke-width="2.33"/>
<circle cx="346.5" cy="75.0" r="8.74" fill="#B22222" stroke="#FFA500" stroke-width="2.33"/>
<circle cx="399.3" cy="66.6" r="8.74" fill="#B22222" stroke="#FFA500" stroke-width="2.33"/>
<circle cx="452.1" cy="61.6" r="8.74" fill="#B22222" stroke="#FFA500" stroke-width="2.33"/>
<circle cx="504.9" cy="52.4" r="8.74" fill="#B22222" stroke="#FFA500" stroke-width="2.33"/>
<circle cx="557.8" cy="47.0" r="8.74" fill="#B22222" stroke="#FFA500" stroke-width="2.33"/>
<circle cx="610.6" cy="37.6" r="8.74" fill="#B22222" stroke="#FFA500" stroke-width="2.33"/>
<path d="M141.0 707.0L141.0 705.5L141.0 704.0L141.0 702.5L141.0 701.0L141.0 699.5L141.0 698.0L141.0 696.5L141.1 695.0L141.1 693.5L141.1 692.0L141.1 690.5L141.1 689.0L141.1 687.4L141.1 685.9L141.1 684.4L141.1 682.9L141.1 681.4L141.2 679.9L141.2 678.4L141.2 676.9L141.2 675.4L141.2 673.9L141.2 672.4L141.2 670.9L141.2 669.4L141.3 667.9L141.3 666.4L141.3 664.9L141.3 663.4L141.3 661.9L141.3 660.4L141.3 658.9L141.3 657.4L141.4 655.9L141.4 654.4L141.4 652.9L141.4 651.3L141.4 649.8L141.4 648.3L141.5 646.8L141.5 645.3L141.5 643.8L141.5 642.3L141.5 640.8L141.5 639.3L141.5 637.8L141.6 636.3L141.6 634.8L141.6 633.3L141.6 631.8L141.6 630.3L141.6 628.8L141.7 627.3L141.7 625.8L141.7 624.3L141.7 622.8L141.7 621.3L141.8 619.8L141.8 618.3L141.8 616.8L141.8 615.3L141.8 613.7L141.8 612.2L141.9 610.7L141.9 609.2L141.9 607.7L141.9 606.2L141.9 604.7L142.0 603.2L142.0 601.7L142.0 600.2L142.0 598.7L142.0 597.2L142.1 595.7L142.1 594.2L142.1 592.7L142.1 591.2L142.1 589.7L142.2 588.2L142.2 586.7L142.2 585.2L142.2 583.7L142.3 582.2L142.3 580.7L142.3 579.2L142.3 577.7L142.4 576.2L142.4 574.6L142.4 573.1L142.4 571.6L142.5 570.1L142.5 568.6L142.5 567.1L142.6 565.6L142.6 564.1L142.6 562.6L142.6 561.1L142.7 559.6L142.7 558.1L142.7 556.6L142.8 555.1L142.8 553.6L142.8 552.1L142.9 550.6L142.9 549.1L142.9 547.6L142.9 546.1L143.0 544.6L143.0 543.1L143.0 541.6L143.1 540.1L143.1 538.6L143.1 537.1L143.2 535.5L143.2 534.0L143.2 532.5L143.3 531.0L143.3 529.5L143.3 528.0L143.4 526.5L143.4 525.0L143.4 523.5L143.5 522.0L143.5 520.5L143.5 519.0L143.6 517.5L143.6 516.0L143.6 514.5L143.7 513.0L143.7 511.5L143.7 510.0L143.8 508.5L143.8 507.0L143.8 505.5L143.9 504.0L143.9 502.5L143.9 501.0L144.0 499.5L144.0 498.0L144.0 496.5L144.1 494.9L144.1 493.4L144.1 491.9L144.2 490.4L144.2 488.9L144.3 487.4L144.3 485.9L144.3 484.4L144.4 482.9L144.4 481.4L144.4 479.9L144.5 478.4L144.5 476.9L144.6 475.4L144.6 473.9L144.6 472.4L144.7 470.9L144.7 469.4L144.8 467.9L144.8 466.4L144.8 464.9L144.9 463.4L144.9 461.9L144.9 460.4L145.0 458.9L145.0 457.4L145.1 455.9L145.1 454.3L145.1 452.8L145.2 451.3L145.2 449.8L145.3 448.3L145.3 446.8L145.3 445.3L145.4 443.8L145.4 442.3L145.5 440.8L145.5 439.3L145.5 437.8L145.6 436.3L145.6 434.8L145.7 433.3L145.7 431.8L145.7 430.3L145.8 428.8L145.8 427.3L145.9 425.8L145.9 424.3L145.9 422.8L146.0 421.3L146.0 419.8L146.0 418.3L146.1 416.8L146.1 415.3L146.2 413.8L146.2 412.2L146.2 410.7L146.3 409.2L146.3 407.7L146.3 406.2L146.4 404.7L146.4 403.2L146.4 401.7L146.4 400.2L146.5 398.7L146.5 397.2L146.5 395.7L146.6 394.2L146.6 392.7L146.6 391.2L146.7 389.7L146.7 388.2L146.7 386.7L146.7 385.2L146.8 383.7L146.8 382.2L146.8 380.6L146.9 379.1L146.9 377.6L146.9 376.1L147.0 374.6L147.0 373.1L147.0 371.6L147.1 370.1L147.1 368.6L147.1 367.1L147.2 365.6L147.2 364.1L147.2 362.6L147.3 361.1L147.3 359.6L147.3 358.1L147.4 356.6L147.4 355.1L147.5 353.6L147.5 352.1L147.5 350.6L147.6 349.1L147.6 347.6L147.7 346.1L147.7 344.6L147.8 343.1L147.8 341.6L147.9 340.1L147.9 338.5L148.0 337.0L148.0 335.5L148.1 334.0L148.2 332.5L148.2 331.0L148.3 329.5L148.4 328.0L148.4 326.5L148.5 325.0L148.6 323.5L148.7 322.0L148.8 320.5L148.9 319.1L149.1 317.6L149.2 316.1L149.4 314.6L149.5 313.1L149.7 311.6L149.8 310.1L150.0 308.6L150.2 307.1L150.3 305.6L150.5 304.1L150.7 302.6L150.9 301.1L151.0 299.6L151.2 298.1L151.4 296.6L151.5 295.1L151.7 293.6L151.8 292.1L151.9 290.6L152.1 289.1L152.2 287.6L152.3 286.1L152.4 284.6L152.6 283.1L152.7 281.6L152.8 280.1L152.9 278.6L153.0 277.1L153.2 275.6L153.3 274.1L153.4 272.6L153.5 271.1L153.6 269.6L153.7 268.1L153.8 266.6L153.9 265.1L154.1 263.6L154.2 262.1L154.3 260.6L154.4 259.1L154.5 257.6L154.6 256.1L154.7 254.6L154.8 253.1L154.9 251.6L155.0 250.1L155.1 248.6L155.2 247.1L155.3 245.6L155.4 244.1L155.5 242.6L155.6 241.1L155.7 239.6L155.7 238.1L155.8 236.6L155.9 235.1L156.0 233.6L156.1 232.1L156.2 230.6L156.3 229.1L156.3 227.6L156.4 226.1L156.5 224.6L156.6 223.1L156.7 221.6L156.8 220.1L156.9 218.6L156.9 217.1L157.0 215.6L157.1 214.1L157.2 212.6L157.3 211.1L157.4 209.6L157.5 208.1L157.6 206.6L157.7 205.1L157.8 203.6L157.9 202.1L158.0 200.6L158.1 199.1L158.2 197.6L158.3 196.1L158.4 194.6L158.5 193.1L158.6 191.6L158.7 190.1L158.8 188.6L158.9 187.1L159.0 185.6L159.2 184.1L159.3 182.6L159.4 181.1L159.5 179.6L159.6 178.1L159.7 176.6L159.9 175.1L160.0 173.6L160.1 172.1L160.2 170.6L160.4 169.1L160.5 167.6L160.6 166.1L160.7 164.6L160.8 163.1L161.0 161.6L161.1 160.1L161.2 158.6L161.3 157.1L161.5 155.6L161.6 154.1L161.7 152.6L161.8 151.1L162.0 149.6L162.1 148.1L162.2 146.6L162.3 145.1L162.4 143.6L162.5 142.1L162.6 140.6L162.8 139.1L162.9 137.6L163.0 136.1L163.2 134.6L163.3 133.1L163.5 131.6L163.7 130.1L163.9 128.6L164.1 127.1L164.3 125.6L164.5 124.1L164.8 122.7L165.0 121.2L165.3 119.7L165.6 118.2L165.9 116.7L166.2 115.2L166.5 113.7L166.8 112.3L167.2 110.8L167.5 109.3L167.9 107.9L168.3 106.5L168.7 105.0L169.1 103.6L169.6 102.2L170.1 100.8L170.7 99.4L171.4 98.1L172.0 96.7L172.7 95.3L173.4 94.0L174.0 92.6L174.7 91.2L175.3 89.9L175.9 88.5L176.5 87.1L177.2 85.7L177.8 84.4L178.4 83.0L179.1 81.6L179.7 80.3L180.4 79.0L181.2 77.7L182.0 76.4L182.8 75.2L183.7 73.9L184.6 72.7L185.5 71.5L186.4 70.3L187.2 69.1L188.1 67.8L188.9 66.6L189.8 65.3L190.6 64.1L191.4 62.8L192.3 61.6L193.1 60.3L193.9 59.1L194.8 57.8L195.6 56.5L196.4 55.2L197.2 53.9L198.0 52.7L198.9 51.4L199.7 50.2L200.7 49.1L201.7 48.0L202.8 47.0L203.9 46.1L205.2 45.1L206.4 44.2L207.6 43.3L208.8 42.4L210.0 41.5L211.2 40.6L212.4 39.6L213.5 38.7L214.7 37.8L215.8 36.8L216.9 35.7L218.0 34.7L219.1 33.7L220.2 32.7L221.4 31.7L222.5 30.7L223.7 29.7L224.8 28.7L226.0 27.8L227.2 26.9L228.4 26.1L229.7 25.3L231.0 24.5" fill="none" stroke="#FFA500" stroke-width="5.40" stroke-linecap="square" stroke-linejoin="round"/>
<polygon points="144.03,318.26 148.40,322.63 152.77,318.26 157.14,322.63 152.77,327.00 157.14,331.37 152.77,335.74 148.40,331.37 144.03,335.74 139.66,331.37 144.03,327.00 139.66,322.63" fill="#B22222" stroke="#FFA500" stroke-width="2.33" stroke-linejoin="miter"/>
<polygon points="157.23,145.26 161.60,149.63 165.97,145.26 170.34,149.63 165.97,154.00 170.34,158.37 165.97,162.74 161.60,158.37 157.23,162.74 152.86,158.37 157.23,154.00 152.86,149.63" fill="#B22222" stroke="#FFA500" stroke-width="2.33" stroke-linejoin="miter"/>
<polygon points="170.43,82.26 174.80,86.63 179.17,82.26 183.54,86.63 179.17,91.00 183.54,95.37 179.17,99.74 174.80,95.37 170.43,99.74 166.06,95.37 170.43,91.00 166.06,86.63" fill="#B22222" stroke="#FFA500" stroke-width="2.33" stroke-linejoin="miter"/>
<polygon points="183.63,59.26 188.00,63.63 192.37,59.26 196.74,63.63 192.37,68.00 196.74,72.37 192.37,76.74 188.00,72.37 183.63,76.74 179.26,72.37 183.63,68.00 179.26,63.63" fill="#B22222" stroke="#FFA500" stroke-width="2.33" stroke-linejoin="miter"/>
<polygon points="196.83,39.76 201.20,44.13 205.57,39.76 209.94,44.13 205.57,48.50 209.94,52.87 205.57,57.24 201.20,52.87 196.83,57.24 192.46,52.87 196.83,48.50 192.46,44.13" fill="#B22222" stroke="#FFA500" stroke-width="2.33" stroke-linejoin="miter"/>
<polygon points="210.03,29.26 214.40,33.63 218.77,29.26 223.14,33.63 218.77,38.00 223.14,42.37 218.77,46.74 214.40,42.37 210.03,46.74 205.66,42.37 210.03,38.00 205.66,33.63" fill="#B22222" stroke="#FFA500" stroke-width="2.33" stroke-linejoin="miter"/>
<polygon points="223.23,17.86 227.60,22.23 231.97,17.86 236.34,22.23 231.97,26.60 236.34,30.97 231.97,35.34 227.60,30.97 223.23,35.34 218.86,30.97 223.23,26.60 218.86,22.23" fill="#B22222" stroke="#FFA500" stroke-width="2.33" stroke-linejoin="miter"/>
<path d="M138.5 707.0L138.5 705.5L138.5 704.0L138.5 702.5L138.5 701.0L138.5 699.5L138.5 698.0L138.5 696.5L138.5 695.0L138.5 693.4L138.5 691.9L138.6 690.4L138.6 688.9L138.6 687.4L138.6 685.9L138.6 684.4L138.6 682.9L138.6 681.4L138.6 679.9L138.6 678.4L138.6 676.9L138.6 675.4L138.6 673.9L138.6 672.4L138.6 670.9L138.6 669.3L138.6 667.8L138.7 666.3L138.7 664.8L138.7 663.3L138.7 661.8L138.7 660.3L138.7 658.8L138.7 657.3L138.7 655.8L138.7 654.3L138.7 652.8L138.7 651.3L138.7 649.8L138.7 648.3L138.7 646.8L138.8 645.2L138.8 643.7L138.8 642.2L138.8 640.7L138.8 639.2L138.8 637.7L138.8 636.2L138.8 634.7L138.8 633.2L138.8 631.7L138.8 630.2L138.8 628.7L138.8 627.2L138.9 625.7L138.9 624.2L138.9 622.7L138.9 621.1L138.9 619.6L138.9 618.1L138.9 616.6L138.9 615.1L138.9 613.6L138.9 612.1L138.9 610.6L138.9 609.1L139.0 607.6L139.0 606.1L139.0 604.6L139.0 603.1L139.0 601.6L139.0 600.1L139.0 598.6L139.0 597.0L139.0 595.5L139.0 594.0L139.0 592.5L139.1 591.0L139.1 589.5L139.1 588.0L139.1 586.5L139.1 585.0L139.1 583.5L139.1 582.0L139.1 580.5L139.1 579.0L139.1 577.5L139.2 576.0L139.2 574.5L139.2 572.9L139.2 571.4L139.2 569.9L139.2 568.4L139.2 566.9L139.2 565.4L139.2 563.9L139.3 562.4L139.3 560.9L139.3 559.4L139.3 557.9L139.3 556.4L139.3 554.9L139.3 553.4L139.3 551.9L139.4 550.4L139.4 548.8L139.4 547.3L139.4 545.8L139.4 544.3L139.4 542.8L139.4 541.3L139.4 539.8L139.5 538.3L139.5 536.8L139.5 535.3L139.5 533.8L139.5 532.3L139.5 530.8L139.5 529.3L139.5 527.8L139.6 526.3L139.6 524.7L139.6 523.2L139.6 521.7L139.6 520.2L139.6 518.7L139.6 517.2L139.7 515.7L139.7 514.2L139.7 512.7L139.7 511.2L139.7 509.7L139.7 508.2L139.7 506.7L139.8 505.2L139.8 503.7L139.8 502.2L139.8 500.7L139.8 499.1L139.8 497.6L139.8 496.1L139.9 494.6L139.9 493.1L139.9 491.6L139.9 490.1L139.9 488.6L139.9 487.1L139.9 485.6L140.0 484.1L140.0 482.6L140.0 481.1L140.0 479.6L140.0 478.1L140.0 476.6L140.0 475.0L140.1 473.5L140.1 472.0L140.1 470.5L140.1 469.0L140.1 467.5L140.1 466.0L140.1 464.5L140.2 463.0L140.2 461.5L140.2 460.0L140.2 458.5L140.2 457.0L140.2 455.5L140.3 454.0L140.3 452.5L140.3 450.9L140.3 449.4L140.3 447.9L140.3 446.4L140.4 444.9L140.4 443.4L140.4 441.9L140.4 440.4L140.4 438.9L140.4 437.4L140.5 435.9L140.5 434.4L140.5 432.9L140.5 431.4L140.5 429.9L140.6 428.4L140.6 426.8L140.6 425.3L140.6 423.8L140.6 422.3L140.7 420.8L140.7 419.3L140.7 417.8L140.7 416.3L140.8 414.8L140.8 413.3L140.8 411.8L140.8 410.3L140.8 408.8L140.9 407.3L140.9 405.8L140.9 404.3L141.0 402.8L141.0 401.2L141.0 399.7L141.0 398.2L141.1 396.7L141.1 395.2L141.1 393.7L141.1 392.2L141.2 390.7L141.2 389.2L141.2 387.7L141.3 386.2L141.3 384.7L141.3 383.2L141.4 381.7L141.4 380.2L141.5 378.6L141.5 377.1L141.5 375.6L141.6 374.1L141.6 372.6L141.7 371.1L141.7 369.6L141.8 368.1L141.8 366.6L141.9 365.1L141.9 363.6L142.0 362.1L142.0 360.6L142.1 359.1L142.2 357.6L142.2 356.1L142.3 354.6L142.4 353.1L142.4 351.6L142.5 350.1L142.6 348.6L142.7 347.1L142.8 345.6L142.9 344.1L143.0 342.6L143.2 341.1L143.3 339.6L143.5 338.1L143.7 336.6L143.8 335.1L144.0 333.6L144.2 332.1L144.4 330.6L144.5 329.1L144.7 327.6L144.9 326.1L145.0 324.6L145.2 323.1L145.4 321.6L145.6 320.1L145.7 318.6L145.9 317.1L146.1 315.6L146.3 314.1L146.5 312.6L146.7 311.1L146.9 309.6L147.0 308.1L147.2 306.6L147.4 305.1L147.6 303.6L147.8 302.1L147.9 300.7L148.1 299.2L148.3 297.7L148.4 296.2L148.6 294.7L148.7 293.2L148.9 291.7L149.1 290.2L149.2 288.7L149.4 287.2L149.6 285.7L149.7 284.2L149.9 282.7L150.0 281.2L150.2 279.7L150.3 278.2L150.4 276.7L150.6 275.2L150.7 273.7L150.8 272.2L150.9 270.7L151.1 269.2L151.2 267.7L151.3 266.2L151.4 264.7L151.5 263.2L151.6 261.7L151.7 260.2L151.8 258.7L151.9 257.2L151.9 255.7L152.0 254.1L152.1 252.6L152.2 251.1L152.3 249.6L152.4 248.1L152.5 246.6L152.6 245.1L152.6 243.6L152.7 242.1L152.8 240.6L152.9 239.1L153.0 237.6L153.1 236.1L153.2 234.6L153.4 233.1L153.5 231.6L153.6 230.1L153.7 228.6L153.8 227.1L153.9 225.6L154.1 224.1L154.2 222.6L154.3 221.1L154.4 219.6L154.5 218.1L154.6 216.6L154.7 215.1L154.8 213.6L154.9 212.1L155.0 210.6L155.0 209.1L155.1 207.6L155.2 206.1L155.2 204.5L155.3 203.0L155.3 201.5L155.4 200.0L155.5 198.5L155.5 197.0L155.6 195.5L155.6 194.0L155.6 192.5L155.7 191.0L155.7 189.5L155.8 188.0L155.8 186.5L155.9 185.0L155.9 183.5L156.0 182.0L156.1 180.5L156.1 179.0L156.2 177.4L156.2 175.9L156.3 174.4L156.3 172.9L156.3 171.4L156.4 169.9L156.4 168.4L156.5 166.9L156.6 165.4L156.6 163.9L156.7 162.4L156.7 160.9L156.8 159.4L156.9 157.9L157.0 156.4L157.1 154.9L157.2 153.4L157.4 151.9L157.6 150.4L157.8 148.9L158.0 147.4L158.3 145.9L158.6 144.4L158.8 143.0L159.1 141.5L159.4 140.0L159.6 138.5L159.9 137.0L160.1 135.5L160.3 134.0L160.5 132.5L160.6 131.0L160.7 129.5L160.8 128.0L160.9 126.5L161.0 125.0L161.0 123.5L161.1 122.0L161.2 120.5L161.2 119.0L161.2 117.5L161.3 115.9L161.3 114.4L161.4 112.9L161.4 111.4L161.5 109.9L161.6 108.4L161.6 106.9L161.7 105.4L161.8 103.9L161.9 102.4L162.0 100.9L162.2 99.5L162.4 98.0L162.6 96.5L163.0 95.0L163.3 93.5L163.7 92.1L164.1 90.6L164.6 89.1L165.0 87.7L165.5 86.3" fill="none" stroke="#DC143C" stroke-width="5.40" stroke-dasharray="19.8 8.5" stroke-dashoffset="-6.0" stroke-linejoin="round"/>
<path d="M165.5 86.3L166.0 84.8L166.5 83.4L167.0 82.0L167.5 80.6L168.1 79.2L168.8 77.9L169.4 76.5L170.1 75.2L170.8 73.8L171.6 72.5L172.3 71.2L173.1 69.9L173.8 68.6L174.6 67.3L175.4 66.0L176.2 64.7L177.0 63.4L177.9 62.1L178.8 61.0L179.7 59.9L180.8 58.8L181.9 57.8L183.0 56.8L184.2 55.9L185.5 55.0L186.7 54.1L188.0 53.2" fill="none" stroke="#DC143C" stroke-width="5.40" stroke-dasharray="19.8 8.5" stroke-dashoffset="-1.5" stroke-linejoin="round"/>
<path d="M188.0 53.2L189.2 52.4L190.5 51.6L191.8 50.8L193.1 50.1L194.4 49.4L195.7 48.6L197.1 48.0L198.5 47.3L199.9 46.7L201.2 46.1L202.6 45.5L204.0 44.8L205.3 44.1L206.5 43.3L207.7 42.4L208.8 41.4L209.9 40.3L211.0 39.3L212.1 38.2L213.2 37.2L214.4 36.2L215.6 35.3L216.8 34.5L218.1 33.6L219.3 32.7L220.6 31.9L222.0 31.1L223.3 30.4L224.7 29.7L226.0 29.1L227.4 28.6L228.8 28.3L230.3 28.0L231.7 27.7L233.2 27.4L234.7 27.1L236.2 26.9L237.7 26.7L239.2 26.6L240.8 26.6" fill="none" stroke="#DC143C" stroke-width="5.40" stroke-dasharray="19.8 8.5" stroke-dashoffset="-9.0" stroke-linejoin="round"/>
<circle cx="188.0" cy="53.2" r="8.74" fill="#F08080" stroke="#DC143C" stroke-width="2.33"/>
<circle cx="240.8" cy="26.6" r="8.74" fill="#F08080" stroke="#DC143C" stroke-width="2.33"/>
<path d="M144.4 707.0L144.4 705.5L144.4 704.0L144.4 702.5L144.4 701.0L144.4 699.5L144.5 698.0L144.5 696.5L144.5 695.0L144.5 693.4L144.5 691.9L144.5 690.4L144.5 688.9L144.5 687.4L144.5 685.9L144.5 684.4L144.5 682.9L144.5 681.4L144.6 679.9L144.6 678.4L144.6 676.9L144.6 675.4L144.6 673.9L144.6 672.4L144.6 670.9L144.6 669.4L144.6 667.9L144.6 666.3L144.6 664.8L144.7 663.3L144.7 661.8L144.7 660.3L144.7 658.8L144.7 657.3L144.7 655.8L144.7 654.3L144.7 652.8L144.7 651.3L144.7 649.8L144.7 648.3L144.7 646.8L144.8 645.3L144.8 643.8L144.8 642.3L144.8 640.7L144.8 639.2L144.8 637.7L144.8 636.2L144.8 634.7L144.8 633.2L144.8 631.7L144.8 630.2L144.8 628.7L144.9 627.2L144.9 625.7L144.9 624.2L144.9 622.7L144.9 621.2L144.9 619.7L144.9 618.2L144.9 616.7L144.9 615.1L144.9 613.6L144.9 612.1L144.9 610.6L145.0 609.1L145.0 607.6L145.0 606.1L145.0 604.6L145.0 603.1L145.0 601.6L145.0 600.1L145.0 598.6L145.0 597.1L145.0 595.6L145.0 594.1L145.0 592.6L145.0 591.1L145.1 589.6L145.1 588.0L145.1 586.5L145.1 585.0L145.1 583.5L145.1 582.0L145.1 580.5L145.1 579.0L145.1 577.5L145.1 576.0L145.1 574.5L145.1 573.0L145.1 571.5L145.2 570.0L145.2 568.5L145.2 567.0L145.2 565.5L145.2 564.0L145.2 562.4L145.2 560.9L145.2 559.4L145.2 557.9L145.2 556.4L145.2 554.9L145.2 553.4L145.2 551.9L145.2 550.4L145.3 548.9L145.3 547.4L145.3 545.9L145.3 544.4L145.3 542.9L145.3 541.4L145.3 539.9L145.3 538.4L145.3 536.8L145.3 535.3L145.3 533.8L145.3 532.3L145.3 530.8L145.3 529.3L145.4 527.8L145.4 526.3L145.4 524.8L145.4 523.3L145.4 521.8L145.4 520.3L145.4 518.8L145.4 517.3L145.4 515.8L145.4 514.3L145.4 512.8L145.4 511.3L145.4 509.7L145.5 508.2L145.5 506.7L145.5 505.2L145.5 503.7L145.5 502.2L145.5 500.7L145.5 499.2L145.5 497.7L145.5 496.2L145.5 494.7L145.5 493.2L145.5 491.7L145.6 490.2L145.6 488.7L145.6 487.2L145.6 485.7L145.6 484.1L145.6 482.6L145.6 481.1L145.6 479.6L145.6 478.1L145.6 476.6L145.6 475.1L145.6 473.6L145.7 472.1L145.7 470.6L145.7 469.1L145.7 467.6L145.7 466.1L145.7 464.6L145.7 463.1L145.7 461.6L145.7 460.1L145.7 458.6L145.7 457.0L145.7 455.5L145.8 454.0L145.8 452.5L145.8 451.0L145.8 449.5L145.8 448.0L145.8 446.5L145.8 445.0L145.8 443.5L145.8 442.0L145.8 440.5L145.9 439.0L145.9 437.5L145.9 436.0L145.9 434.5L145.9 433.0L145.9 431.4L145.9 429.9L145.9 428.4L145.9 426.9L146.0 425.4L146.0 423.9L146.0 422.4L146.0 420.9L146.0 419.4L146.0 417.9L146.0 416.4L146.0 414.9L146.1 413.4L146.1 411.9L146.1 410.4L146.1 408.9L146.1 407.4L146.1 405.9L146.2 404.3L146.2 402.8L146.2 401.3L146.2 399.8L146.2 398.3L146.3 396.8L146.3 395.3L146.3 393.8L146.3 392.3L146.3 390.8L146.4 389.3L146.4 387.8L146.4 386.3L146.4 384.8L146.5 383.3L146.5 381.8L146.5 380.3L146.5 378.7L146.6 377.2L146.6 375.7L146.6 374.2L146.6 372.7L146.7 371.2L146.7 369.7L146.7 368.2L146.7 366.7L146.8 365.2L146.8 363.7L146.8 362.2L146.8 360.7L146.8 359.2L146.9 357.7L146.9 356.2L146.9 354.7L146.9 353.2L147.0 351.6L147.0 350.1L147.0 348.6L147.0 347.1L147.1 345.6L147.1 344.1L147.1 342.6L147.1 341.1L147.2 339.6L147.2 338.1L147.2 336.6L147.2 335.1L147.2 333.6L147.3 332.1L147.3 330.6L147.3 329.1L147.3 327.5L147.3 326.0L147.4 324.5L147.4 323.0L147.4 321.5L147.4 320.0L147.5 318.5L147.5 317.0L147.5 315.5L147.5 314.0L147.6 312.5L147.6 311.0L147.6 309.5L147.7 308.0L147.7 306.5L147.7 305.0L147.8 303.5L147.8 302.0L147.9 300.5L147.9 298.9L148.0 297.4L148.0 295.9L148.1 294.4L148.1 292.9L148.2 291.4L148.3 289.9L148.4 288.4L148.6 286.9L148.7 285.4L148.8 283.9L149.0 282.4L149.1 280.9L149.3 279.4L149.5 277.9L149.7 276.4L149.8 274.9L150.0 273.4L150.2 271.9L150.4 270.4L150.6 269.0L150.8 267.5L151.0 266.0L151.2 264.5L151.4 263.0L151.7 261.5L151.9 260.0L152.2 258.6L152.4 257.1L152.7 255.6L153.0 254.1L153.3 252.6L153.6 251.2L153.9 249.7L154.2 248.2L154.5 246.7L154.9 245.3L155.2 243.8L155.5 242.3L155.8 240.8L156.1 239.4L156.5 237.9L156.8 236.4L157.2 235.0L157.5 233.5L157.9 232.1L158.3 230.6L158.7 229.1L159.1 227.7" fill="none" stroke="#FFD700" stroke-width="5.40" stroke-dasharray="19.8 8.5" stroke-dashoffset="-6.0" stroke-linejoin="round"/>
<path d="M159.1 227.7L159.4 226.2L159.8 224.8L160.2 223.3L160.6 221.8L160.9 220.4L161.3 218.9L161.7 217.5L162.0 216.0L162.3 214.5L162.7 213.1L163.0 211.6L163.3 210.1L163.6 208.6L163.9 207.2L164.2 205.7L164.5 204.2L164.8 202.7L165.1 201.3L165.4 199.8L165.7 198.3L166.0 196.8L166.3 195.4L166.6 193.9L166.9 192.4L167.2 190.9L167.6 189.5L167.9 188.0L168.2 186.5L168.5 185.1L168.9 183.6L169.2 182.1L169.5 180.7L169.9 179.2L170.2 177.7L170.6 176.3L170.9 174.8L171.3 173.3L171.6 171.9L171.9 170.4L172.3 168.9L172.6 167.5L173.0 166.0L173.4 164.5L173.7 163.1L174.1 161.6L174.4 160.2L174.8 158.7L175.2 157.2L175.5 155.8L175.9 154.3L176.3 152.9L176.7 151.4L177.0 149.9L177.4 148.5L177.7 147.0L178.1 145.5L178.4 144.1L178.8 142.6L179.1 141.1L179.5 139.7L179.8 138.2L180.2 136.7L180.5 135.3L180.9 133.8L181.3 132.4L181.7 130.9L182.2 129.5L182.6 128.1L183.1 126.6L183.6 125.2L184.1 123.8L184.6 122.4L185.2 121.0L185.7 119.6L186.3 118.2L186.9 116.8L187.4 115.4L188.0 114.0" fill="none" stroke="#FFD700" stroke-width="5.40" stroke-dasharray="18.0 7.7" stroke-dashoffset="-4.5" stroke-linejoin="round"/>
<path d="M188.0 114.0L188.6 112.6L189.1 111.2L189.7 109.8L190.3 108.4L190.9 107.0L191.5 105.6L192.1 104.2L192.7 102.8L193.4 101.5L194.0 100.1L194.7 98.8L195.4 97.5L196.2 96.2L197.0 94.9L197.8 93.7L198.7 92.5L199.6 91.2L200.5 90.0L201.5 88.9L202.4 87.7L203.4 86.6L204.4 85.4L205.5 84.3L206.5 83.3L207.6 82.2L208.7 81.2L209.8 80.2L211.0 79.2L212.1 78.3L213.3 77.3L214.4 76.3L215.6 75.3L216.7 74.4L217.9 73.4L219.0 72.3L220.1 71.3L221.2 70.3L222.4 69.3L223.5 68.4L224.7 67.4L225.9 66.5L227.1 65.7L228.4 64.9L229.7 64.1L231.0 63.2L232.3 62.4L233.6 61.7L234.9 60.9L236.3 60.3L237.7 59.6L239.0 59.0L240.4 58.5" fill="none" stroke="#FFD700" stroke-width="5.40" stroke-dasharray="19.8 8.5" stroke-dashoffset="-18.1" stroke-linejoin="round"/>
<path d="M240.4 58.5L241.8 58.1L243.2 57.7L244.7 57.3L246.1 56.9L247.6 56.6L249.1 56.3L250.6 55.9L252.1 55.6L253.6 55.4L255.0 55.1L256.5 54.8L258.0 54.5L259.5 54.2L261.0 53.9L262.4 53.6L263.9 53.4L265.4 53.1L266.9 52.8L268.4 52.6L269.9 52.3L271.4 52.1L272.8 51.8L274.3 51.6L275.8 51.4L277.3 51.2L278.9 51.0L280.5 50.9L282.0 50.7L283.6 50.6L285.2 50.4L286.7 50.3L288.2 50.1L289.7 49.9L291.1 49.6L292.4 49.3L293.7 49.0" fill="none" stroke="#FFD700" stroke-width="5.40" stroke-dasharray="19.8 8.5" stroke-dashoffset="-16.6" stroke-linejoin="round"/>
<path d="M293.7 49.0L294.9 48.4L296.1 47.5L297.2 46.4L298.3 45.2L299.3 43.9L300.2 42.7L301.1 41.5L301.9 40.2L302.7 38.9L303.5 37.6L304.3 36.3L305.1 35.1L306.1 33.9L307.1 32.8L308.3 31.7L309.5 31.0L310.8 30.6L312.3 30.3L313.8 30.1L315.4 29.8L316.9 29.6L318.4 29.4L319.9 29.1L321.3 28.9L322.8 28.7L324.3 28.4L325.8 28.2L327.3 28.0L328.8 27.8" fill="none" stroke="#FFD700" stroke-width="5.40" stroke-dasharray="19.8 8.5" stroke-dashoffset="-11.0" stroke-linejoin="round"/>
<circle cx="188.0" cy="114.0" r="8.74" fill="#FFFF00" stroke="#FFD700" stroke-width="2.33"/>
<circle cx="240.8" cy="58.4" r="8.74" fill="#FFFF00" stroke="#FFD700" stroke-width="2.33"/>
<circle cx="293.7" cy="49.0" r="8.74" fill="#FFFF00" stroke="#FFD700" stroke-width="2.33"/>
</g>
<rect x="109.0" y="11.7" width="583.5" height="694.8" fill="none" stroke="#000" stroke-width="2.05"/>
<line x1="135.2" y1="706.5" x2="135.2" y2="715.0" stroke="#000" stroke-width="2.05"/>
<text x="135.2" y="748.1" text-anchor="middle" font-size="32.6">0</text>
<line x1="267.2" y1="706.5" x2="267.2" y2="715.0" stroke="#000" stroke-width="2.05"/>
<text x="267.2" y="748.1" text-anchor="middle" font-size="32.6">500</text>
<line x1="399.3" y1="706.5" x2="399.3" y2="715.0" stroke="#000" stroke-width="2.05"/>
<text x="399.3" y="748.1" text-anchor="middle" font-size="32.6">1000</text>
<line x1="531.3" y1="706.5" x2="531.3" y2="715.0" stroke="#000" stroke-width="2.05"/>
<text x="531.3" y="748.1" text-anchor="middle" font-size="32.6">1500</text>
<line x1="663.4" y1="706.5" x2="663.4" y2="715.0" stroke="#000" stroke-width="2.05"/>
<text x="663.4" y="748.1" text-anchor="middle" font-size="32.6">2000</text>
<line x1="100.5" y1="706.5" x2="109.0" y2="706.5" stroke="#000" stroke-width="2.05"/>
<text x="92.5" y="718.7" text-anchor="end" font-size="32.6">0.5</text>
<line x1="100.5" y1="567.5" x2="109.0" y2="567.5" stroke="#000" stroke-width="2.05"/>
<text x="92.5" y="579.7" text-anchor="end" font-size="32.6">0.6</text>
<line x1="100.5" y1="428.6" x2="109.0" y2="428.6" stroke="#000" stroke-width="2.05"/>
<text x="92.5" y="440.8" text-anchor="end" font-size="32.6">0.7</text>
<line x1="100.5" y1="289.6" x2="109.0" y2="289.6" stroke="#000" stroke-width="2.05"/>
<text x="92.5" y="301.8" text-anchor="end" font-size="32.6">0.8</text>
<line x1="100.5" y1="150.7" x2="109.0" y2="150.7" stroke="#000" stroke-width="2.05"/>
<text x="92.5" y="162.9" text-anchor="end" font-size="32.6">0.9</text>
<line x1="100.5" y1="11.7" x2="109.0" y2="11.7" stroke="#000" stroke-width="2.05"/>
<text x="92.5" y="23.9" text-anchor="end" font-size="32.6">1.0</text>
<text x="401.2" y="788.0" text-anchor="middle" font-size="32.6">Communication Rounds</text>
<text transform="translate(24.95 356.4) rotate(-90)" text-anchor="middle" font-size="32.75">Testing Accuracy</text>
<line x1="581.4" y1="147.2" x2="620.6" y2="86.2" stroke="#000" stroke-width="2.3" stroke-linecap="round"/>
<polygon points="633.4,66.4 610.6,79.2 630.7,92.8" fill="#808080" stroke="#000" stroke-width="2.3" stroke-linejoin="miter"/>
<text x="452.3" y="178.6" font-size="29.2">Target accuracy</text>
<rect x="327.4" y="397.8" width="350.8" height="294.7" rx="4.7" ry="4.7" fill="#fff" fill-opacity="0.8" stroke="#ccc" stroke-opacity="0.8" stroke-width="2.8"/>
<line x1="338.7" y1="420.0" x2="394.6" y2="420.0" stroke="#6A5ACD" stroke-width="5.40" stroke-dasharray="19.8 8.5"/>
<circle cx="366.6" cy="420.0" r="8.74" fill="#000080" stroke="#6A5ACD" stroke-width="2.33"/>
<text x="416.6" y="429.8" font-size="28.0"><tspan font-style="oblique">E</tspan><tspan dx="5.5">=</tspan><tspan dx="5.5">1</tspan><tspan>,</tspan><tspan dx="5.2" font-style="oblique">B</tspan><tspan dx="5.5">=</tspan><tspan dx="5.5" dy="-1.3">∞</tspan></text>
<line x1="338.7" y1="461.0" x2="394.6" y2="461.0" stroke="#008000" stroke-width="5.40" stroke-dasharray="19.8 8.5"/>
<circle cx="366.6" cy="461.0" r="8.74" fill="#00FFFF" stroke="#008000" stroke-width="2.33"/>
<text x="416.6" y="470.8" font-size="28.0">E=1, B=8, C=10</text>
<line x1="338.7" y1="502.0" x2="394.6" y2="502.0" stroke="#008000" stroke-width="5.40" stroke-linecap="square"/>
<polygon points="362.28,493.26 366.65,497.63 371.02,493.26 375.39,497.63 371.02,502.00 375.39,506.37 371.02,510.74 366.65,506.37 362.28,510.74 357.91,506.37 362.28,502.00 357.91,497.63" fill="#00FFFF" stroke="#008000" stroke-width="2.33" stroke-linejoin="miter"/>
<text x="416.6" y="511.8" font-size="28.0">E=5, B=8, C=10</text>
<line x1="338.7" y1="543.0" x2="394.6" y2="543.0" stroke="#FFA500" stroke-width="5.40" stroke-dasharray="19.8 8.5"/>
<circle cx="366.6" cy="543.0" r="8.74" fill="#B22222" stroke="#FFA500" stroke-width="2.33"/>
<text x="416.6" y="552.8" font-size="28.0">E=1, B=32, C=10</text>
<line x1="338.7" y1="584.0" x2="394.6" y2="584.0" stroke="#FFA500" stroke-width="5.40" stroke-linecap="square"/>
<polygon points="362.28,575.26 366.65,579.63 371.02,575.26 375.39,579.63 371.02,584.00 375.39,588.37 371.02,592.74 366.65,588.37 362.28,592.74 357.91,588.37 362.28,584.00 357.91,579.63" fill="#B22222" stroke="#FFA500" stroke-width="2.33" stroke-linejoin="miter"/>
<text x="416.6" y="593.8" font-size="28.0">E=5, B=32, C=10</text>
<line x1="338.7" y1="625.0" x2="394.6" y2="625.0" stroke="#DC143C" stroke-width="5.40" stroke-dasharray="19.8 8.5"/>
<circle cx="366.6" cy="625.0" r="8.74" fill="#F08080" stroke="#DC143C" stroke-width="2.33"/>
<text x="416.6" y="634.8" font-size="28.0">E=1, B=8, C=20</text>
<line x1="338.7" y1="666.0" x2="394.6" y2="666.0" stroke="#FFD700" stroke-width="5.40" stroke-dasharray="19.8 8.5"/>
<circle cx="366.6" cy="666.0" r="8.74" fill="#FFFF00" stroke="#FFD700" stroke-width="2.33"/>
<text x="416.6" y="675.8" font-size="28.0">E=1, B=8, C=50</text>
<g clip-path="url(#cr)">
<path d="M916.7 6.0L916.9 7.5L917.2 9.0L917.4 10.5L917.7 11.9L917.9 13.4L918.1 14.9L918.4 16.4L918.6 17.9L918.9 19.4L919.1 20.8L919.4 22.3L919.6 23.8L919.9 25.3L920.1 26.8L920.4 28.3L920.6 29.7L920.9 31.2L921.1 32.7L921.4 34.2L921.6 35.7L921.9 37.2L922.1 38.6L922.4 40.1L922.6 41.6L922.9 43.1L923.1 44.6L923.4 46.1L923.6 47.5L923.8 49.0L924.1 50.5L924.3 52.0L924.5 53.5L924.8 55.0L925.0 56.5L925.2 57.9L925.5 59.4L925.7 60.9L925.9 62.4L926.1 63.9L926.4 65.4L926.6 66.9L926.8 68.4L927.0 69.9L927.2 71.3L927.5 72.8L927.7 74.3L927.9 75.8L928.1 77.3L928.3 78.8L928.6 80.3L928.8 81.8L929.0 83.2L929.2 84.7L929.4 86.2L929.7 87.7L929.9 89.2L930.1 90.7L930.3 92.2L930.5 93.7L930.8 95.1L931.0 96.6L931.2 98.1L931.4 99.6L931.6 101.1L931.8 102.6L932.1 104.1L932.3 105.6L932.5 107.1L932.7 108.5L932.9 110.0L933.1 111.5L933.4 113.0L933.6 114.5L933.8 116.0L934.0 117.5L934.3 119.0L934.5 120.4L934.7 121.9L934.9 123.4L935.2 124.9L935.4 126.4L935.7 127.9L935.9 129.4L936.1 130.8L936.4 132.3L936.6 133.8L936.9 135.3L937.2 136.8L937.4 138.3L937.7 139.7L938.0 141.2L938.3 142.7L938.5 144.2L938.8 145.6L939.1 147.1L939.4 148.6L939.7 150.1L939.9 151.6L940.2 153.0L940.5 154.5L940.8 156.0L941.1 157.5L941.3 158.9L941.6 160.4L941.9 161.9L942.2 163.4L942.4 164.9L942.7 166.3L943.0 167.8L943.2 169.3L943.5 170.8L943.7 172.3L944.0 173.8L944.2 175.2L944.5 176.7L944.7 178.2L944.9 179.7L945.2 181.2L945.4 182.7L945.7 184.2L945.9 185.6L946.1 187.1L946.4 188.6L946.6 190.1L946.8 191.6L947.1 193.1L947.3 194.6L947.5 196.0L947.8 197.5L948.0 199.0L948.3 200.5L948.5 202.0L948.8 203.5L949.1 204.9L949.3 206.4L949.6 207.9L949.9 209.4L950.2 210.8L950.5 212.3L950.8 213.8L951.1 215.3L951.4 216.7L951.7 218.2L952.0 219.7L952.3 221.1L952.7 222.6L953.0 224.1L953.3 225.5L953.7 227.0L954.0 228.5L954.4 229.9L954.7 231.4L955.0 232.9L955.4 234.3L955.7 235.8L956.1 237.3L956.4 238.7L956.7 240.2L957.1 241.7L957.4 243.1L957.7 244.6L958.0 246.1L958.3 247.6L958.6 249.0L958.9 250.5L959.2 252.0L959.5 253.5L959.8 254.9L960.1 256.4L960.4 257.9L960.7 259.4L961.0 260.8L961.3 262.3L961.6 263.8L961.9 265.3L962.2 266.7L962.5 268.2L962.8 269.7L963.1 271.1L963.4 272.6L963.8 274.1L964.1 275.5L964.4 277.0L964.8 278.5L965.1 280.0L965.4 281.4L965.8 282.9L966.1 284.4L966.5 285.8L966.8 287.3L967.2 288.7L967.5 290.2L967.9 291.7L968.2 293.1L968.6 294.6L969.0 296.0L969.3 297.5L969.7 299.0L970.1 300.4L970.5 301.9L970.9 303.3L971.3 304.7L971.7 306.2L972.2 307.6L972.6 309.1L973.0 310.5L973.5 312.0L973.9 313.4L974.4 314.8L974.8 316.3L975.2 317.7L975.6 319.2L976.1 320.6L976.5 322.0L976.9 323.5L977.3 324.9L977.7 326.4L978.2 327.8L978.6 329.3L979.0 330.7L979.4 332.2L979.8 333.6L980.2 335.1L980.7 336.5L981.1 338.0L981.5 339.4L981.9 340.9L982.4 342.3L982.8 343.7L983.2 345.2L983.7 346.6L984.1 348.1L984.5 349.5L985.0 350.9L985.5 352.4L985.9 353.8L986.4 355.2L986.9 356.6L987.3 358.1L987.8 359.5L988.3 360.9L988.8 362.3L989.3 363.7L989.8 365.1L990.4 366.5L990.9 367.9L991.4 369.4L992.0 370.8L992.5 372.2L993.1 373.6L993.7 375.0L994.2 376.3L994.8 377.7L995.4 379.1L996.0 380.5L996.5 381.9L997.1 383.3L997.7 384.7L998.3 386.1L998.9 387.5L999.5 388.8L1000.1 390.2L1000.7 391.6L1001.3 393.0L1001.9 394.3L1002.5 395.7L1003.1 397.1L1003.7 398.5L1004.3 399.8L1005.0 401.2L1005.6 402.6L1006.2 404.0L1006.8 405.3L1007.5 406.7L1008.1 408.1L1008.7 409.4L1009.4 410.8L1010.0 412.1L1010.7 413.5L1011.4 414.9L1012.0 416.2L1012.7 417.5L1013.4 418.9L1014.0 420.2L1014.7 421.6L1015.4 422.9L1016.1 424.2L1016.8 425.6L1017.5 426.9L1018.3 428.2L1019.0 429.5L1019.7 430.8L1020.5 432.1L1021.2 433.4L1022.0 434.7L1022.7 436.0L1023.5 437.3L1024.3 438.6L1025.0 439.9L1025.8 441.2L1026.6 442.5L1027.4 443.8L1028.2 445.1L1029.0 446.3L1029.8 447.6L1030.6 448.9L1031.4 450.2L1032.2 451.4L1033.0 452.7L1033.8 454.0L1034.6 455.3L1035.4 456.5L1036.2 457.8L1037.1 459.0L1037.9 460.3L1038.8 461.5L1039.6 462.8L1040.5 464.0L1041.4 465.2L1042.3 466.4L1043.2 467.6L1044.1 468.7L1045.1 469.9L1046.0 471.1L1047.0 472.2L1048.0 473.4L1049.0 474.5L1050.0 475.6L1051.0 476.8L1052.0 477.9L1053.0 479.0L1054.1 480.1L1055.1 481.1L1056.1 482.2L1057.2 483.3L1058.3 484.3L1059.4 485.4L1060.5 486.4L1061.6 487.5L1062.7 488.5L1063.8 489.5L1064.9 490.5L1066.0 491.6L1067.1 492.6L1068.2 493.6L1069.3 494.6L1070.4 495.7L1071.4 496.7L1072.5 497.7L1073.6 498.8L1074.7 499.8L1075.8 500.8L1076.9 501.9L1078.0 502.9L1079.1 503.9L1080.2 504.9L1081.3 506.0L1082.4 507.0L1083.5 508.0L1084.6 509.0L1085.7 510.1L1086.8 511.1L1087.9 512.1L1089.1 513.1L1090.2 514.1L1091.3 515.2L1092.3 516.2L1093.4 517.3L1094.5 518.3L1095.6 519.4L1096.6 520.5L1097.7 521.6L1098.8 522.7L1099.9 523.8L1100.9 524.8L1102.0 525.9L1103.1 526.9L1104.2 528.0L1105.3 529.0L1106.4 530.0L1107.5 531.0L1108.7 532.0L1109.8 532.9L1111.0 533.8L1112.2 534.7L1113.4 535.6L1114.6 536.4L1115.9 537.2L1117.2 537.9L1118.6 538.6L1119.9 539.3L1121.3 540.0L1122.6 540.7L1123.9 541.4L1125.2 542.1L1126.5 542.9L1127.8 543.6L1129.2 544.3L1130.5 545.1L1131.8 545.8L1133.1 546.5L1134.4 547.3L1135.7 548.0L1137.0 548.8L1138.3 549.5L1139.6 550.3L1140.9 551.1L1142.2 551.9L1143.5 552.6L1144.7 553.4L1146.0 554.2L1147.3 555.0L1148.6 555.8L1149.9 556.6L1151.2 557.3L1152.4 558.1L1153.7 558.9L1155.0 559.7L1156.3 560.5L1157.6 561.3L1158.9 562.1L1160.1 562.8L1161.5 563.6L1162.8 564.3L1164.1 565.1L1165.4 565.8L1166.6 566.7L1167.8 567.6L1168.9 568.6L1170.0 569.6L1171.0 570.7L1172.1 571.9L1173.1 573.2L1174.2 574.1" fill="none" stroke="#6A5ACD" stroke-width="5.40" stroke-dasharray="19.8 8.5" stroke-dashoffset="-5.0" stroke-linejoin="round"/>
<path d="M1174.2 574.1L1175.5 574.3L1177.0 574.4L1178.6 574.5L1180.1 574.6L1181.7 574.8L1183.2 574.9L1184.6 575.2L1186.1 575.4L1187.5 575.8L1188.9 576.3L1190.3 576.9L1191.7 577.6L1193.1 578.2L1194.4 578.9L1195.8 579.6L1197.1 580.3L1198.4 581.1L1199.7 581.9L1200.9 582.7L1202.1 583.7L1203.2 584.7L1204.3 585.8L1205.5 586.8L1206.6 587.7L1207.8 588.5L1209.1 589.2L1210.5 589.9L1211.9 590.4L1213.3 591.0L1214.7 591.5L1216.1 592.0L1217.5 592.6L1218.9 593.2L1220.3 593.9L1221.6 594.5L1223.0 595.2L1224.3 595.9L1225.7 596.6L1227.0 597.2L1228.4 597.8L1229.8 598.3L1231.2 598.9L1232.6 599.4L1234.0 600.0L1235.4 600.5L1236.8 601.0L1238.2 601.5L1239.6 602.0L1241.1 602.5L1242.5 603.0L1243.9 603.5L1245.3 604.0L1246.8 604.5L1248.2 605.0L1249.6 605.5L1251.0 606.0L1252.5 606.5L1253.9 607.0L1255.3 607.5L1256.7 607.9L1258.1 608.4L1259.6 608.9L1261.0 609.4L1262.4 609.9L1263.8 610.4L1265.3 610.8L1266.7 611.3L1268.1 611.8L1269.5 612.3L1271.0 612.8L1272.4 613.3L1273.8 613.7L1275.2 614.2L1276.7 614.7L1278.1 615.2L1279.5 615.7L1280.9 616.3L1282.3 616.8L1283.7 617.3L1285.1 617.9L1286.5 618.4L1287.9 619.0L1289.3 619.5L1290.7 620.1L1292.1 620.6L1293.5 621.2L1294.9 621.8L1296.3 622.3L1297.7 622.9L1299.1 623.4L1300.5 624.0L1301.9 624.5L1303.3 625.0L1304.7 625.5L1306.1 626.0L1307.6 626.5L1309.0 627.0L1310.4 627.5L1311.8 628.0L1313.3 628.5L1314.7 628.9L1316.1 629.4L1317.6 629.8L1319.0 630.3L1320.4 630.7L1321.9 631.2L1323.3 631.6L1324.7 632.1L1326.2 632.6L1327.6 633.0L1329.0 633.5L1330.5 634.0L1331.9 634.5L1333.3 634.9" fill="none" stroke="#6A5ACD" stroke-width="5.40" stroke-dasharray="19.8 8.5" stroke-dashoffset="-21.0" stroke-linejoin="round"/>
<path d="M1333.3 634.9L1334.7 635.4L1336.1 635.9L1337.5 636.5L1339.0 637.0L1340.4 637.5L1341.8 638.0L1343.2 638.5L1344.6 639.1L1346.0 639.6L1347.4 640.1L1348.8 640.7L1350.2 641.2L1351.6 641.7L1353.1 642.2L1354.5 642.8L1355.9 643.3L1357.3 643.8L1358.7 644.3L1360.1 644.8L1361.5 645.3L1362.9 645.9L1364.4 646.4L1365.8 646.9L1367.2 647.4L1368.6 647.9L1370.0 648.4L1371.4 648.9L1372.9 649.4L1374.3 649.9L1375.7 650.4L1377.1 650.9L1378.5 651.4L1380.0 651.9L1381.4 652.4L1382.8 652.8L1384.2 653.3L1385.7 653.8L1387.1 654.3L1388.5 654.8" fill="none" stroke="#6A5ACD" stroke-width="5.40" stroke-dasharray="19.8 8.5" stroke-dashoffset="-18.1" stroke-linejoin="round"/>
<circle cx="963.0" cy="270.6" r="8.74" fill="#000080" stroke="#6A5ACD" stroke-width="2.33"/>
<circle cx="1016.0" cy="424.0" r="8.74" fill="#000080" stroke="#6A5ACD" stroke-width="2.33"/>
<circle cx="1069.0" cy="494.4" r="8.74" fill="#000080" stroke="#6A5ACD" stroke-width="2.33"/>
<circle cx="1121.7" cy="540.2" r="8.74" fill="#000080" stroke="#6A5ACD" stroke-width="2.33"/>
<circle cx="1174.6" cy="574.2" r="8.74" fill="#000080" stroke="#6A5ACD" stroke-width="2.33"/>
<circle cx="1227.3" cy="597.3" r="8.74" fill="#000080" stroke="#6A5ACD" stroke-width="2.33"/>
<circle cx="1280.2" cy="616.0" r="8.74" fill="#000080" stroke="#6A5ACD" stroke-width="2.33"/>
<circle cx="1332.6" cy="634.7" r="8.74" fill="#000080" stroke="#6A5ACD" stroke-width="2.33"/>
<path d="M869.3 6.0L869.3 7.5L869.4 9.0L869.4 10.5L869.5 12.0L869.5 13.5L869.5 15.0L869.6 16.5L869.6 18.0L869.6 19.5L869.7 21.0L869.7 22.5L869.7 24.0L869.7 25.5L869.8 27.0L869.8 28.5L869.8 30.0L869.9 31.6L869.9 33.1L869.9 34.6L870.0 36.1L870.0 37.6L870.0 39.1L870.0 40.6L870.1 42.1L870.1 43.6L870.1 45.1L870.2 46.6L870.2 48.1L870.2 49.6L870.2 51.1L870.3 52.6L870.3 54.1L870.3 55.6L870.3 57.1L870.4 58.6L870.4 60.1L870.4 61.6L870.5 63.1L870.5 64.6L870.5 66.1L870.5 67.6L870.6 69.1L870.6 70.6L870.6 72.1L870.7 73.6L870.7 75.1L870.7 76.6L870.7 78.1L870.8 79.7L870.8 81.2L870.8 82.7L870.9 84.2L870.9 85.7L870.9 87.2L871.0 88.7L871.0 90.2L871.0 91.7L871.1 93.2L871.1 94.7L871.1 96.2L871.2 97.7L871.2 99.2L871.3 100.7L871.3 102.2L871.3 103.7L871.4 105.2L871.4 106.7L871.4 108.2L871.5 109.7L871.5 111.2L871.6 112.7L871.6 114.2L871.6 115.7L871.7 117.2L871.7 118.7L871.8 120.2L871.8 121.7L871.8 123.2L871.9 124.7L871.9 126.2L872.0 127.7L872.0 129.2L872.0 130.7L872.1 132.3L872.1 133.8L872.2 135.3L872.2 136.8L872.2 138.3L872.3 139.8L872.3 141.3L872.4 142.8L872.4 144.3L872.5 145.8L872.5 147.3L872.5 148.8L872.6 150.3L872.6 151.8L872.7 153.3L872.7 154.8L872.7 156.3L872.8 157.8L872.8 159.3L872.9 160.8L872.9 162.3L872.9 163.8L873.0 165.3L873.0 166.8L873.1 168.3L873.1 169.8L873.1 171.3L873.2 172.8L873.2 174.3L873.2 175.8L873.3 177.3L873.3 178.8L873.4 180.3L873.4 181.8L873.4 183.3L873.5 184.9L873.5 186.4L873.5 187.9L873.6 189.4L873.6 190.9L873.6 192.4L873.7 193.9L873.7 195.4L873.7 196.9L873.8 198.4L873.8 199.9L873.9 201.4L873.9 202.9L873.9 204.4L874.0 205.9L874.0 207.4L874.1 208.9L874.1 210.4L874.1 211.9L874.2 213.4L874.2 214.9L874.3 216.4L874.3 217.9L874.4 219.4L874.4 220.9L874.5 222.4L874.5 223.9L874.6 225.4L874.6 226.9L874.7 228.4L874.8 229.9L874.8 231.4L874.9 232.9L874.9 234.4L875.0 235.9L875.1 237.4L875.1 238.9L875.2 240.4L875.3 242.0L875.3 243.5L875.4 245.0L875.5 246.5L875.5 248.0L875.6 249.5L875.7 251.0L875.7 252.5L875.8 254.0L875.9 255.5L876.0 257.0L876.0 258.5L876.1 260.0L876.2 261.5L876.3 263.0L876.4 264.5L876.4 266.0L876.5 267.5L876.6 269.0L876.7 270.5L876.8 272.0L876.9 273.5L876.9 275.0L877.0 276.5L877.1 278.0L877.2 279.5L877.3 281.0L877.4 282.5L877.5 284.0L877.6 285.5L877.7 287.0L877.8 288.5L877.9 290.0L878.0 291.5L878.1 293.0L878.2 294.5L878.4 296.0L878.5 297.5L878.6 299.0L878.7 300.5L878.8 302.0L878.9 303.5L879.0 305.0L879.1 306.5L879.3 308.0L879.4 309.5L879.5 311.0L879.6 312.5L879.7 314.0L879.8 315.5L879.9 317.0L880.0 318.5L880.1 320.0L880.2 321.5L880.3 323.0L880.4 324.5L880.5 326.0L880.6 327.5L880.7 329.0L880.8 330.5L880.9 332.0L881.0 333.5L881.1 335.0L881.2 336.5L881.3 338.0L881.4 339.5L881.5 341.0L881.7 342.5L881.8 344.0L881.9 345.5L882.0 347.0L882.1 348.5L882.2 350.0L882.3 351.5L882.4 353.0L882.6 354.5L882.7 356.0L882.8 357.5L882.9 359.0L883.0 360.5L883.2 362.0L883.3 363.5L883.4 365.0L883.5 366.5L883.7 368.0L883.8 369.5L883.9 371.0L884.0 372.5L884.2 374.0L884.3 375.5L884.4 377.0L884.5 378.5L884.7 380.0L884.8 381.5L884.9 383.0L885.1 384.5L885.2 385.9L885.3 387.4L885.5 388.9L885.6 390.4L885.8 391.9L885.9 393.4L886.1 394.9L886.2 396.4L886.4 397.9L886.5 399.4L886.7 400.9L886.8 402.4L887.0 403.9L887.2 405.4L887.3 406.9L887.5 408.4L887.7 409.9L887.9 411.4L888.1 412.9L888.2 414.3L888.4 415.8L888.6 417.3L888.8 418.8L889.0 420.3L889.3 421.8L889.5 423.3L889.7 424.7L890.0 426.2L890.3 427.7L890.6 429.2L890.9 430.6L891.2 432.1L891.5 433.6L891.8 435.1L892.1 436.5L892.4 438.0L892.7 439.5L893.1 440.9L893.4 442.4L893.7 443.9L894.0 445.4L894.3 446.8L894.7 448.3L895.0 449.8L895.2 451.2L895.5 452.7L895.8 454.2L896.1 455.7L896.4 457.2L896.7 458.6L897.0 460.1L897.3 461.6L897.6 463.0L897.9 464.5L898.2 466.0L898.5 467.5L898.9 468.9L899.2 470.4L899.5 471.9L899.8 473.3L900.2 474.8L900.5 476.3L900.8 477.7L901.2 479.2L901.5 480.7L901.9 482.1L902.2 483.6L902.6 485.0L903.0 486.5L903.3 488.0L903.7 489.4L904.1 490.9L904.5 492.3L904.9 493.8L905.3 495.2L905.8 496.6L906.2 498.1L906.7 499.5L907.2 500.9L907.7 502.3L908.2 503.8L908.7 505.2L909.2 506.6L909.7 508.0L910.2 509.4L910.7 510.8L911.2 512.3L911.7 513.7L912.2 515.1L912.7 516.5L913.2 517.9L913.8 519.3L914.3 520.7L914.8 522.2L915.4 523.6L915.9 525.0L916.5 526.4L917.0 527.7L917.6 529.1L918.2 530.5L918.8 531.9L919.4 533.3L920.0 534.6L920.7 536.0L921.3 537.4L921.9 538.7L922.6 540.1L923.2 541.5L923.9 542.8L924.6 544.2L925.3 545.5L926.0 546.8L926.7 548.2L927.4 549.5L928.1 550.8L928.9 552.1L929.6 553.4L930.4 554.7L931.2 555.9L932.0 557.2L932.8 558.5L933.6 559.7L934.5 561.0L935.3 562.2L936.2 563.4L937.1 564.7L938.0 565.9L938.9 567.1L939.8 568.3L940.7 569.5L941.6 570.7L942.6 571.9L943.5 573.0L944.5 574.2L945.4 575.3L946.4 576.5L947.4 577.6L948.4 578.7L949.4 579.9L950.4 581.0L951.4 582.1L952.4 583.2L953.5 584.3L954.6 585.4L955.6 586.5L956.7 587.5L957.8 588.6L958.9 589.6L960.0 590.6L961.2 591.5L962.3 592.5L963.5 593.4L964.7 594.3L966.0 595.1L967.2 595.9L968.5 596.7L969.8 597.5L971.1 598.2L972.4 599.0L973.7 599.8L975.0 600.6L976.2 601.4L977.5 602.3L978.7 603.1L980.0 604.0L981.2 604.8L982.5 605.7L983.7 606.5L985.0 607.4L986.2 608.2L987.5 609.0L988.8 609.8L990.0 610.6L991.3 611.4L992.6 612.2L993.9 612.9L995.2 613.6L996.5 614.3L997.9 614.9L999.2 615.6L1000.6 616.2L1002.0 616.8L1003.4 617.4L1004.7 618.0L1006.1 618.6L1007.5 619.1L1008.9 619.7L1010.3 620.2L1011.8 620.8L1013.2 621.3L1014.6 621.9L1016.0 622.4L1017.4 622.9L1018.8 623.5L1020.2 624.0L1021.6 624.5L1023.0 625.0L1024.4 625.5L1025.8 626.0L1027.3 626.6L1028.7 627.1L1030.1 627.6L1031.5 628.1L1032.9 628.5L1034.4 629.0L1035.8 629.5L1037.2 630.0L1038.6 630.5L1040.1 630.9L1041.5 631.4L1042.9 631.8L1044.4 632.3L1045.8 632.7L1047.2 633.2L1048.7 633.6L1050.1 634.0L1051.6 634.5L1053.0 634.9L1054.5 635.2L1055.9 635.6L1057.4 636.0L1058.8 636.4L1060.3 636.8L1061.7 637.1L1063.2 637.5L1064.7 637.9L1066.1 638.2L1067.6 638.6L1069.0 639.0L1070.5 639.4L1071.9 639.8L1073.4 640.2L1074.8 640.6L1076.3 641.1L1077.7 641.5L1079.1 641.9L1080.6 642.3L1082.0 642.8L1083.5 643.2L1084.9 643.6L1086.4 644.0L1087.8 644.4L1089.3 644.8L1090.7 645.2L1092.2 645.6L1093.6 645.9L1095.1 646.3L1096.6 646.6L1098.0 647.0L1099.5 647.3L1101.0 647.6L1102.4 647.9L1103.9 648.2L1105.4 648.5L1106.8 648.8L1108.3 649.1L1109.8 649.3L1111.3 649.6L1112.8 649.9L1114.2 650.2L1115.7 650.4L1117.2 650.7L1118.7 651.0L1120.2 651.2L1121.6 651.5L1123.1 651.8L1124.6 652.0L1126.1 652.3L1127.6 652.5L1129.0 652.8L1130.5 653.0L1132.0 653.3L1133.5 653.5" fill="none" stroke="#008000" stroke-width="5.40" stroke-dasharray="19.8 8.5" stroke-dashoffset="-5.0" stroke-linejoin="round"/>
<circle cx="910.4" cy="510.0" r="8.74" fill="#00FFFF" stroke="#008000" stroke-width="2.33"/>
<circle cx="963.0" cy="593.0" r="8.74" fill="#00FFFF" stroke="#008000" stroke-width="2.33"/>
<circle cx="1016.0" cy="622.4" r="8.74" fill="#00FFFF" stroke="#008000" stroke-width="2.33"/>
<circle cx="1069.0" cy="639.0" r="8.74" fill="#00FFFF" stroke="#008000" stroke-width="2.33"/>
<circle cx="1121.7" cy="651.5" r="8.74" fill="#00FFFF" stroke="#008000" stroke-width="2.33"/>
<path d="M860.9 6.0L860.9 7.5L860.9 9.0L861.0 10.5L861.0 12.0L861.0 13.5L861.0 15.0L861.0 16.5L861.0 18.0L861.1 19.6L861.1 21.1L861.1 22.6L861.1 24.1L861.1 25.6L861.2 27.1L861.2 28.6L861.2 30.1L861.2 31.6L861.2 33.1L861.2 34.6L861.3 36.1L861.3 37.6L861.3 39.1L861.3 40.6L861.3 42.1L861.3 43.6L861.4 45.1L861.4 46.7L861.4 48.2L861.4 49.7L861.4 51.2L861.4 52.7L861.5 54.2L861.5 55.7L861.5 57.2L861.5 58.7L861.5 60.2L861.5 61.7L861.6 63.2L861.6 64.7L861.6 66.2L861.6 67.7L861.6 69.2L861.6 70.7L861.7 72.3L861.7 73.8L861.7 75.3L861.7 76.8L861.7 78.3L861.7 79.8L861.8 81.3L861.8 82.8L861.8 84.3L861.8 85.8L861.8 87.3L861.9 88.8L861.9 90.3L861.9 91.8L861.9 93.3L861.9 94.8L862.0 96.3L862.0 97.8L862.0 99.4L862.0 100.9L862.0 102.4L862.1 103.9L862.1 105.4L862.1 106.9L862.1 108.4L862.1 109.9L862.2 111.4L862.2 112.9L862.2 114.4L862.2 115.9L862.3 117.4L862.3 118.9L862.3 120.4L862.4 121.9L862.4 123.4L862.4 125.0L862.4 126.5L862.5 128.0L862.5 129.5L862.5 131.0L862.5 132.5L862.6 134.0L862.6 135.5L862.6 137.0L862.6 138.5L862.7 140.0L862.7 141.5L862.7 143.0L862.8 144.5L862.8 146.0L862.8 147.5L862.8 149.0L862.9 150.5L862.9 152.1L862.9 153.6L862.9 155.1L862.9 156.6L863.0 158.1L863.0 159.6L863.0 161.1L863.0 162.6L863.1 164.1L863.1 165.6L863.1 167.1L863.1 168.6L863.1 170.1L863.2 171.6L863.2 173.1L863.2 174.6L863.2 176.1L863.2 177.6L863.3 179.2L863.3 180.7L863.3 182.2L863.3 183.7L863.3 185.2L863.4 186.7L863.4 188.2L863.4 189.7L863.4 191.2L863.4 192.7L863.4 194.2L863.5 195.7L863.5 197.2L863.5 198.7L863.5 200.2L863.5 201.7L863.6 203.2L863.6 204.8L863.6 206.3L863.6 207.8L863.6 209.3L863.6 210.8L863.7 212.3L863.7 213.8L863.7 215.3L863.7 216.8L863.7 218.3L863.8 219.8L863.8 221.3L863.8 222.8L863.8 224.3L863.8 225.8L863.8 227.3L863.9 228.8L863.9 230.3L863.9 231.9L863.9 233.4L863.9 234.9L864.0 236.4L864.0 237.9L864.0 239.4L864.0 240.9L864.0 242.4L864.1 243.9L864.1 245.4L864.1 246.9L864.1 248.4L864.1 249.9L864.1 251.4L864.2 252.9L864.2 254.4L864.2 255.9L864.2 257.4L864.2 259.0L864.3 260.5L864.3 262.0L864.3 263.5L864.3 265.0L864.3 266.5L864.4 268.0L864.4 269.5L864.4 271.0L864.4 272.5L864.4 274.0L864.5 275.5L864.5 277.0L864.5 278.5L864.5 280.0L864.5 281.5L864.6 283.0L864.6 284.6L864.6 286.1L864.6 287.6L864.6 289.1L864.7 290.6L864.7 292.1L864.7 293.6L864.7 295.1L864.7 296.6L864.8 298.1L864.8 299.6L864.8 301.1L864.8 302.6L864.8 304.1L864.9 305.6L864.9 307.1L864.9 308.6L864.9 310.1L864.9 311.7L865.0 313.2L865.0 314.7L865.0 316.2L865.0 317.7L865.0 319.2L865.1 320.7L865.1 322.2L865.1 323.7L865.1 325.2L865.1 326.7L865.2 328.2L865.2 329.7L865.2 331.2L865.2 332.7L865.2 334.2L865.3 335.7L865.3 337.3L865.3 338.8L865.3 340.3L865.3 341.8L865.3 343.3L865.4 344.8L865.4 346.3L865.4 347.8L865.4 349.3L865.4 350.8L865.5 352.3L865.5 353.8L865.5 355.3L865.5 356.8L865.5 358.3L865.6 359.8L865.6 361.3L865.6 362.8L865.6 364.4L865.6 365.9L865.7 367.4L865.7 368.9L865.7 370.4L865.7 371.9L865.7 373.4L865.8 374.9L865.8 376.4L865.8 377.9L865.8 379.4L865.9 380.9L865.9 382.4L865.9 383.9L865.9 385.4L866.0 386.9L866.0 388.4L866.0 390.0L866.0 391.5L866.0 393.0L866.1 394.5L866.1 396.0L866.1 397.5L866.2 399.0L866.2 400.5L866.2 402.0L866.2 403.5L866.3 405.0L866.3 406.5L866.3 408.0L866.3 409.5L866.4 411.0L866.4 412.5L866.4 414.0L866.5 415.5L866.5 417.1L866.5 418.6L866.5 420.1L866.6 421.6L866.6 423.1L866.6 424.6L866.7 426.1L866.7 427.6L866.7 429.1L866.8 430.6L866.8 432.1L866.8 433.6L866.9 435.1L866.9 436.6L866.9 438.1L867.0 439.6L867.0 441.1L867.0 442.6L867.1 444.1L867.1 445.7L867.1 447.2L867.2 448.7L867.2 450.2L867.2 451.7L867.3 453.2L867.3 454.7L867.4 456.2L867.4 457.7L867.4 459.2L867.5 460.7L867.5 462.2L867.5 463.7L867.6 465.2L867.6 466.7L867.7 468.2L867.7 469.7L867.7 471.2L867.8 472.8L867.8 474.3L867.9 475.8L867.9 477.3L867.9 478.8L868.0 480.3L868.0 481.8L868.1 483.3L868.1 484.8L868.2 486.3L868.2 487.8L868.3 489.3L868.3 490.8L868.4 492.3L868.4 493.8L868.4 495.3L868.5 496.8L868.5 498.3L868.6 499.8L868.6 501.3L868.7 502.9L868.7 504.4L868.8 505.9L868.8 507.4L868.9 508.9L868.9 510.4L869.0 511.9L869.0 513.4L869.1 514.9L869.2 516.4L869.2 517.9L869.3 519.4L869.3 520.9L869.4 522.4L869.4 523.9L869.5 525.4L869.5 526.9L869.6 528.4L869.6 529.9L869.7 531.4L869.7 533.0L869.8 534.5L869.9 536.0L869.9 537.5L870.0 539.0L870.0 540.5L870.1 542.0L870.1 543.5L870.2 545.0L870.2 546.5L870.3 548.0L870.4 549.5L870.4 551.0L870.5 552.5L870.5 554.0L870.6 555.5L870.7 557.0L870.7 558.5L870.8 560.0L870.9 561.5L870.9 563.0L871.0 564.5L871.1 566.1L871.1 567.6L871.2 569.1L871.3 570.6L871.4 572.1L871.4 573.6L871.5 575.1L871.6 576.6L871.7 578.1L871.7 579.6L871.8 581.1L871.9 582.6L872.0 584.1L872.1 585.6L872.2 587.1L872.2 588.6L872.3 590.1L872.4 591.6L872.5 593.1L872.6 594.6L872.7 596.1L872.8 597.6L872.9 599.1L873.0 600.6L873.2 602.1L873.3 603.6L873.4 605.1L873.5 606.6L873.7 608.1L873.8 609.6L874.0 611.1L874.1 612.6L874.3 614.1L874.4 615.6L874.6 617.1L874.7 618.6L874.9 620.1L875.1 621.6L875.3 623.1L875.5 624.6L875.6 626.1L875.8 627.6L876.0 629.1L876.2 630.6L876.4 632.1L876.7 633.6L876.9 635.1L877.1 636.5L877.3 638.0L877.5 639.5L877.8 641.0L878.1 642.5L878.3 644.0L878.6 645.4L878.9 646.9L879.2 648.4L879.5 649.9L879.8 651.3L880.1 652.8L880.4 654.3L880.8 655.8L881.1 657.2L881.4 658.7L881.8 660.2L882.1 661.7L882.5 663.1L882.8 664.6L883.2 666.0L883.5 667.5L883.9 669.0L884.3 670.4L884.6 671.9L885.0 673.4L885.4 674.8L885.8 676.3L886.2 677.7L886.7 679.1L887.2 680.6L887.7 682.2L888.3 683.9L888.9 685.5L889.7 686.7L890.5 687.3L891.6 687.6L893.0 687.8L894.7 687.9L896.5 688.0" fill="none" stroke="#008000" stroke-width="5.40" stroke-linecap="square" stroke-linejoin="round"/>
<polygon points="866.43,551.26 870.80,555.63 875.17,551.26 879.54,555.63 875.17,560.00 879.54,564.37 875.17,568.74 870.80,564.37 866.43,568.74 862.06,564.37 866.43,560.00 862.06,555.63" fill="#00FFFF" stroke="#008000" stroke-width="2.33" stroke-linejoin="miter"/>
<polygon points="879.63,660.66 884.00,665.03 888.37,660.66 892.74,665.03 888.37,669.40 892.74,673.77 888.37,678.14 884.00,673.77 879.63,678.14 875.26,673.77 879.63,669.40 875.26,665.03" fill="#00FFFF" stroke="#008000" stroke-width="2.33" stroke-linejoin="miter"/>
<path d="M881.5 6.0L881.7 7.5L881.8 9.0L882.0 10.5L882.2 12.0L882.3 13.5L882.5 15.0L882.7 16.5L882.8 18.0L883.0 19.4L883.1 20.9L883.3 22.4L883.5 23.9L883.6 25.4L883.8 26.9L883.9 28.4L884.1 29.9L884.2 31.4L884.4 32.9L884.5 34.4L884.7 35.9L884.8 37.4L885.0 38.9L885.1 40.4L885.3 41.9L885.4 43.4L885.5 44.9L885.7 46.4L885.8 47.9L885.9 49.4L886.1 50.9L886.2 52.4L886.3 53.9L886.5 55.4L886.6 56.9L886.7 58.4L886.8 59.9L886.9 61.4L887.1 62.9L887.2 64.3L887.3 65.8L887.4 67.3L887.5 68.8L887.6 70.3L887.7 71.8L887.8 73.3L887.9 74.8L888.1 76.3L888.2 77.8L888.3 79.3L888.4 80.8L888.5 82.3L888.6 83.8L888.7 85.3L888.9 86.8L889.0 88.3L889.1 89.8L889.2 91.3L889.3 92.8L889.5 94.3L889.6 95.8L889.7 97.3L889.9 98.8L890.0 100.3L890.2 101.8L890.3 103.3L890.5 104.8L890.7 106.3L890.8 107.8L891.0 109.3L891.2 110.8L891.3 112.3L891.5 113.8L891.7 115.2L891.9 116.7L892.1 118.2L892.2 119.7L892.4 121.2L892.6 122.7L892.8 124.2L893.0 125.7L893.2 127.2L893.4 128.7L893.5 130.2L893.7 131.7L893.9 133.2L894.1 134.7L894.3 136.1L894.4 137.6L894.6 139.1L894.8 140.6L895.0 142.1L895.1 143.6L895.3 145.1L895.5 146.6L895.7 148.1L895.8 149.6L896.0 151.1L896.2 152.6L896.4 154.1L896.6 155.5L896.7 157.0L896.9 158.5L897.1 160.0L897.3 161.5L897.4 163.0L897.6 164.5L897.8 166.0L897.9 167.5L898.1 169.0L898.3 170.5L898.4 172.0L898.6 173.5L898.8 175.0L898.9 176.5L899.1 178.0L899.3 179.4L899.4 180.9L899.6 182.4L899.7 183.9L899.9 185.4L900.1 186.9L900.2 188.4L900.4 189.9L900.5 191.4L900.7 192.9L900.9 194.4L901.0 195.9L901.2 197.4L901.4 198.9L901.6 200.4L901.7 201.9L901.9 203.4L902.1 204.8L902.3 206.3L902.5 207.8L902.7 209.3L902.9 210.8L903.1 212.3L903.3 213.8L903.5 215.3L903.7 216.8L903.9 218.3L904.1 219.7L904.3 221.2L904.5 222.7L904.7 224.2L904.9 225.7L905.1 227.2L905.3 228.7L905.6 230.2L905.8 231.7L906.0 233.1L906.2 234.6L906.4 236.1L906.6 237.6L906.9 239.1L907.1 240.6L907.3 242.1L907.5 243.6L907.7 245.0L908.0 246.5L908.2 248.0L908.4 249.5L908.6 251.0L908.8 252.5L909.1 254.0L909.3 255.4L909.5 256.9L909.8 258.4L910.0 259.9L910.3 261.4L910.6 262.9L910.8 264.3L911.1 265.8L911.4 267.3L911.7 268.8L912.0 270.2L912.3 271.7L912.6 273.2L912.9 274.6L913.2 276.1L913.5 277.6L913.8 279.1L914.1 280.5L914.4 282.0L914.6 283.5L914.9 285.0L915.1 286.5L915.4 288.0L915.6 289.4L915.8 290.9L916.1 292.4L916.3 293.9L916.5 295.4L916.8 296.9L917.0 298.4L917.2 299.8L917.5 301.3L917.7 302.8L918.0 304.3L918.2 305.8L918.5 307.3L918.8 308.7L919.0 310.2L919.3 311.7L919.6 313.1L919.9 314.6L920.2 316.1L920.5 317.6L920.9 319.0L921.2 320.5L921.5 322.0L921.8 323.4L922.2 324.9L922.5 326.4L922.8 327.8L923.2 329.3L923.5 330.8L923.9 332.2L924.3 333.7L924.6 335.1L925.0 336.6L925.3 338.1L925.7 339.5L926.1 341.0L926.5 342.4L926.8 343.9L927.2 345.3L927.6 346.8L928.0 348.3L928.3 349.7L928.7 351.2L929.1 352.6L929.5 354.1L929.9 355.5L930.3 357.0L930.6 358.4L931.0 359.9L931.4 361.3L931.8 362.8L932.2 364.2L932.6 365.7L933.0 367.2L933.4 368.6L933.8 370.1L934.2 371.5L934.6 373.0L935.0 374.4L935.5 375.8L935.9 377.3L936.3 378.7L936.8 380.2L937.2 381.6L937.7 383.0L938.1 384.5L938.6 385.9L939.1 387.3L939.6 388.7L940.0 390.1L940.6 391.5L941.1 393.0L941.6 394.4L942.1 395.8L942.7 397.2L943.3 398.5L943.8 399.9L944.4 401.3L945.0 402.7L945.6 404.1L946.2 405.5L946.8 406.8L947.4 408.2L948.1 409.6L948.7 411.0L949.3 412.3L950.0 413.7L950.6 415.1L951.2 416.4L951.9 417.8L952.5 419.1L953.2 420.5L953.9 421.8L954.5 423.2L955.2 424.5L955.9 425.9L956.6 427.2L957.3 428.5L958.0 429.9L958.7 431.2L959.4 432.5L960.1 433.8L960.8 435.2L961.6 436.5L962.3 437.8L963.0 439.1L963.8 440.4L964.5 441.7L965.3 443.0L966.0 444.3L966.8 445.6L967.6 446.9L968.3 448.2L969.1 449.5L969.9 450.8L970.7 452.1L971.5 453.4L972.3 454.6L973.1 455.9L973.9 457.1L974.8 458.4L975.6 459.6L976.5 460.9L977.3 462.1L978.2 463.3L979.1 464.5L980.0 465.7L980.9 466.8L981.9 468.0L982.8 469.2L983.8 470.3L984.8 471.5L985.7 472.6L986.7 473.7L987.7 474.9L988.7 476.0L989.8 477.1L990.8 478.2L991.8 479.3L992.8 480.5L993.8 481.6L994.9 482.7L995.9 483.8L996.9 484.9L998.0 486.0L999.0 487.1L1000.0 488.2L1001.0 489.3L1002.1 490.4L1003.1 491.5L1004.1 492.6L1005.2 493.7L1006.2 494.7L1007.3 495.8L1008.3 496.9L1009.4 498.0L1010.5 499.0L1011.6 500.0L1012.7 501.1L1013.8 502.1L1014.9 503.1L1016.0 504.0L1017.2 505.0L1018.3 505.9L1019.5 506.8L1020.7 507.7L1021.9 508.6L1023.1 509.5L1024.3 510.4L1025.6 511.3L1026.8 512.1L1028.0 513.0L1029.3 513.8L1030.5 514.7L1031.8 515.5L1033.1 516.4L1034.3 517.2L1035.6 518.0L1036.8 518.9L1038.1 519.7L1039.3 520.5L1040.6 521.4L1041.8 522.2L1043.1 523.1L1044.3 523.9L1045.6 524.8L1046.8 525.6L1048.1 526.4L1049.3 527.3L1050.6 528.1L1051.8 529.0L1053.1 529.8L1054.3 530.6L1055.6 531.4L1056.8 532.3L1058.1 533.1L1059.4 533.9L1060.7 534.7L1061.9 535.5L1063.2 536.2L1064.5 537.0L1065.8 537.8L1067.1 538.5L1068.4 539.3L1069.7 540.0L1071.0 540.7L1072.3 541.4L1073.7 542.1L1075.0 542.8L1076.3 543.5L1077.7 544.2L1079.0 544.8L1080.4 545.5L1081.8 546.2L1083.1 546.8L1084.5 547.5L1085.8 548.1L1087.2 548.7L1088.6 549.3L1089.9 550.0L1091.3 550.6L1092.7 551.2L1094.0 551.8L1095.4 552.4L1096.8 553.0L1098.2 553.6L1099.6 554.2L1101.0 554.8L1102.3 555.4L1103.7 555.9L1105.1 556.5L1106.5 557.1L1107.9 557.7L1109.3 558.2L1110.7 558.8L1112.1 559.3L1113.5 559.9L1114.9 560.4L1116.3 561.0L1117.7 561.5L1119.1 562.0L1120.5 562.6L1121.9 563.1L1123.3 563.6L1124.7 564.1L1126.2 564.6L1127.6 565.1L1129.0 565.6L1130.4 566.1L1131.8 566.6L1133.3 567.1L1134.7 567.6L1136.1 568.1L1137.5 568.5L1139.0 569.0L1140.4 569.5L1141.8 570.0L1143.2 570.4L1144.7 570.9L1146.1 571.4L1147.5 571.8L1149.0 572.3L1150.4 572.8L1151.8 573.3L1153.2 573.7L1154.7 574.2L1156.1 574.6L1157.5 575.1L1159.0 575.6L1160.4 576.0L1161.8 576.5L1163.3 576.9L1164.7 577.4L1166.1 577.9L1167.6 578.3L1169.0 578.8L1170.4 579.2L1171.8 579.7L1173.3 580.2L1174.7 580.6L1176.1 581.1L1177.6 581.6L1179.0 582.0L1180.4 582.5L1181.8 583.0L1183.3 583.5L1184.7 584.0L1186.1 584.4L1187.5 584.9L1189.0 585.4L1190.4 585.9L1191.8 586.3L1193.2 586.8L1194.7 587.3L1196.1 587.7L1197.5 588.2L1199.0 588.7L1200.4 589.1L1201.8 589.6L1203.3 590.0L1204.7 590.5L1206.1 590.9L1207.6 591.3L1209.0 591.8L1210.5 592.2L1211.9 592.6L1213.3 593.1L1214.8 593.5L1216.2 593.9L1217.7 594.4L1219.1 594.8L1220.5 595.2L1222.0 595.7L1223.4 596.1L1224.9 596.5L1226.3 597.0L1227.7 597.4L1229.2 597.9L1230.6 598.3L1232.0 598.8L1233.4 599.3L1234.9 599.7L1236.3 600.2L1237.7 600.7L1239.2 601.1L1240.6 601.6L1242.0 602.1L1243.4 602.6L1244.9 603.0L1246.3 603.5L1247.7 604.0L1249.2 604.4L1250.6 604.9L1252.0 605.4L1253.4 605.8L1254.9 606.3L1256.3 606.7L1257.7 607.2L1259.2 607.6L1260.6 608.1L1262.1 608.5L1263.5 608.9L1264.9 609.4L1266.4 609.8L1267.8 610.2L1269.3 610.7L1270.7 611.1L1272.1 611.6L1273.6 612.0L1275.0 612.4L1276.4 612.9L1277.9 613.3L1279.3 613.8L1280.7 614.3L1282.2 614.7L1283.6 615.2L1285.0 615.7L1286.4 616.2L1287.8 616.7L1289.3 617.2L1290.7 617.7L1292.1 618.2L1293.5 618.7L1294.9 619.2L1296.4 619.7L1297.8 620.2L1299.2 620.7L1300.6 621.2L1302.0 621.7L1303.5 622.1L1304.9 622.6L1306.3 623.1L1307.7 623.6L1309.2 624.0L1310.6 624.5L1312.0 625.0L1313.4 625.4L1314.9 625.9L1316.3 626.4L1317.7 626.8L1319.2 627.3L1320.6 627.8L1322.0 628.2L1323.5 628.7L1324.9 629.1L1326.3 629.6L1327.8 630.0L1329.2 630.5L1330.6 630.9L1332.1 631.3L1333.5 631.8L1335.0 632.2L1336.4 632.6L1337.8 633.1L1339.3 633.5L1340.7 633.9L1342.2 634.3L1343.6 634.8L1345.1 635.2L1346.5 635.6L1347.9 636.0L1349.4 636.4L1350.8 636.8L1352.3 637.3L1353.7 637.7L1355.2 638.1L1356.6 638.5L1358.1 638.9L1359.5 639.4L1360.9 639.8L1362.4 640.2L1363.8 640.6L1365.3 641.0L1366.7 641.5L1368.1 641.9L1369.6 642.3L1371.0 642.8L1372.5 643.2L1373.9 643.6L1375.4 644.0L1376.8 644.5L1378.2 644.9L1379.7 645.3L1381.1 645.7L1382.6 646.2L1384.0 646.6" fill="none" stroke="#FFA500" stroke-width="5.40" stroke-dasharray="19.8 8.5" stroke-dashoffset="-5.0" stroke-linejoin="round"/>
<circle cx="910.4" cy="262.0" r="8.74" fill="#B22222" stroke="#FFA500" stroke-width="2.33"/>
<circle cx="963.0" cy="439.0" r="8.74" fill="#B22222" stroke="#FFA500" stroke-width="2.33"/>
<circle cx="1016.0" cy="504.0" r="8.74" fill="#B22222" stroke="#FFA500" stroke-width="2.33"/>
<circle cx="1069.0" cy="539.6" r="8.74" fill="#B22222" stroke="#FFA500" stroke-width="2.33"/>
<circle cx="1121.7" cy="563.0" r="8.74" fill="#B22222" stroke="#FFA500" stroke-width="2.33"/>
<circle cx="1174.6" cy="580.6" r="8.74" fill="#B22222" stroke="#FFA500" stroke-width="2.33"/>
<circle cx="1227.3" cy="597.3" r="8.74" fill="#B22222" stroke="#FFA500" stroke-width="2.33"/>
<circle cx="1280.2" cy="614.1" r="8.74" fill="#B22222" stroke="#FFA500" stroke-width="2.33"/>
<circle cx="1332.6" cy="631.5" r="8.74" fill="#B22222" stroke="#FFA500" stroke-width="2.33"/>
<path d="M864.4 6.0L864.4 7.5L864.4 9.0L864.5 10.5L864.5 12.0L864.5 13.5L864.5 15.0L864.5 16.5L864.5 18.0L864.6 19.5L864.6 21.0L864.6 22.6L864.6 24.1L864.6 25.6L864.6 27.1L864.6 28.6L864.7 30.1L864.7 31.6L864.7 33.1L864.7 34.6L864.7 36.1L864.7 37.6L864.7 39.1L864.8 40.6L864.8 42.1L864.8 43.6L864.8 45.1L864.8 46.6L864.8 48.1L864.8 49.6L864.8 51.1L864.8 52.7L864.9 54.2L864.9 55.7L864.9 57.2L864.9 58.7L864.9 60.2L864.9 61.7L864.9 63.2L864.9 64.7L864.9 66.2L865.0 67.7L865.0 69.2L865.0 70.7L865.0 72.2L865.0 73.7L865.0 75.2L865.0 76.7L865.0 78.2L865.1 79.7L865.1 81.2L865.1 82.7L865.1 84.3L865.1 85.8L865.1 87.3L865.1 88.8L865.1 90.3L865.2 91.8L865.2 93.3L865.2 94.8L865.2 96.3L865.2 97.8L865.2 99.3L865.3 100.8L865.3 102.3L865.3 103.8L865.3 105.3L865.3 106.8L865.3 108.3L865.4 109.8L865.4 111.3L865.4 112.8L865.4 114.3L865.4 115.9L865.5 117.4L865.5 118.9L865.5 120.4L865.5 121.9L865.6 123.4L865.6 124.9L865.6 126.4L865.6 127.9L865.7 129.4L865.7 130.9L865.7 132.4L865.8 133.9L865.8 135.4L865.8 136.9L865.9 138.4L865.9 139.9L865.9 141.4L866.0 142.9L866.0 144.4L866.1 145.9L866.1 147.4L866.1 149.0L866.2 150.5L866.2 152.0L866.3 153.5L866.3 155.0L866.4 156.5L866.4 158.0L866.5 159.5L866.5 161.0L866.6 162.5L866.6 164.0L866.7 165.5L866.7 167.0L866.8 168.5L866.8 170.0L866.9 171.5L866.9 173.0L867.0 174.5L867.0 176.0L867.1 177.5L867.1 179.0L867.2 180.5L867.3 182.0L867.3 183.5L867.4 185.1L867.4 186.6L867.5 188.1L867.6 189.6L867.6 191.1L867.7 192.6L867.7 194.1L867.8 195.6L867.9 197.1L867.9 198.6L868.0 200.1L868.1 201.6L868.1 203.1L868.2 204.6L868.3 206.1L868.4 207.6L868.5 209.1L868.6 210.6L868.7 212.1L868.8 213.6L868.9 215.1L869.0 216.6L869.1 218.1L869.2 219.6L869.3 221.1L869.4 222.6L869.5 224.1L869.7 225.6L869.8 227.1L869.9 228.6L870.0 230.1L870.1 231.6L870.2 233.1L870.3 234.6L870.4 236.1L870.5 237.6L870.5 239.1L870.6 240.6L870.7 242.1L870.7 243.6L870.8 245.1L870.9 246.6L870.9 248.1L871.0 249.7L871.0 251.2L871.0 252.7L871.1 254.2L871.1 255.7L871.1 257.2L871.2 258.7L871.2 260.2L871.3 261.7L871.3 263.2L871.3 264.7L871.4 266.2L871.4 267.7L871.5 269.2L871.5 270.7L871.6 272.2L871.6 273.7L871.7 275.2L871.8 276.7L871.8 278.2L871.9 279.7L872.0 281.2L872.0 282.7L872.1 284.2L872.2 285.7L872.3 287.3L872.4 288.8L872.4 290.3L872.5 291.8L872.6 293.3L872.7 294.8L872.8 296.3L872.9 297.8L873.0 299.3L873.1 300.8L873.1 302.3L873.2 303.8L873.3 305.3L873.4 306.8L873.5 308.3L873.6 309.8L873.7 311.3L873.8 312.8L873.9 314.3L874.0 315.8L874.1 317.3L874.2 318.8L874.3 320.3L874.4 321.8L874.5 323.3L874.6 324.8L874.7 326.3L874.8 327.8L874.9 329.3L875.0 330.8L875.1 332.3L875.2 333.8L875.3 335.3L875.4 336.8L875.5 338.3L875.6 339.8L875.8 341.3L875.9 342.8L876.0 344.3L876.1 345.8L876.2 347.3L876.3 348.8L876.4 350.3L876.6 351.8L876.7 353.3L876.8 354.8L876.9 356.3L877.0 357.8L877.2 359.3L877.3 360.8L877.4 362.3L877.5 363.8L877.6 365.3L877.7 366.8L877.9 368.3L878.0 369.8L878.1 371.3L878.2 372.8L878.3 374.3L878.5 375.8L878.6 377.3L878.7 378.8L878.8 380.3L879.0 381.8L879.1 383.3L879.2 384.8L879.3 386.3L879.5 387.8L879.6 389.3L879.7 390.8L879.8 392.3L880.0 393.8L880.1 395.3L880.2 396.8L880.3 398.3L880.5 399.8L880.6 401.3L880.7 402.8L880.9 404.3L881.0 405.8L881.1 407.3L881.2 408.8L881.4 410.3L881.5 411.8L881.6 413.3L881.8 414.8L881.9 416.3L882.0 417.8L882.2 419.3L882.3 420.8L882.4 422.3L882.6 423.8L882.7 425.3L882.8 426.8L882.9 428.3L883.1 429.8L883.2 431.3L883.3 432.8L883.5 434.3L883.6 435.8L883.8 437.3L883.9 438.8L884.1 440.3L884.3 441.8L884.4 443.3L884.6 444.8L884.8 446.3L885.0 447.7L885.3 449.2L885.5 450.7L885.7 452.2L885.9 453.7L886.2 455.2L886.4 456.7L886.7 458.2L886.9 459.6L887.2 461.1L887.4 462.6L887.7 464.1L887.9 465.6L888.2 467.1L888.4 468.5L888.7 470.0L889.0 471.5L889.3 473.0L889.6 474.5L889.9 475.9L890.2 477.4L890.4 478.9L890.8 480.4L891.1 481.8L891.4 483.3L891.7 484.8L892.0 486.3L892.3 487.7L892.6 489.2L892.9 490.7L893.2 492.1L893.5 493.6L893.8 495.1L894.1 496.6L894.4 498.0L894.7 499.5L895.0 501.0L895.3 502.5L895.5 504.0L895.8 505.4L896.1 506.9L896.5 508.4L896.8 509.9L897.1 511.3L897.5 512.8L897.9 514.2L898.3 515.7L898.7 517.1L899.1 518.5L899.6 520.0L900.0 521.4L900.5 522.9L901.0 524.3L901.5 525.7L902.0 527.1L902.5 528.6L903.0 530.0L903.4 531.4L903.9 532.8L904.4 534.3L904.9 535.7L905.4 537.1L906.0 538.5L906.5 539.9L907.0 541.3L907.5 542.7L908.1 544.1L908.6 545.5L909.2 546.9L909.7 548.3L910.3 549.7L910.9 551.1L911.4 552.5L912.0 553.9L912.6 555.3L913.2 556.7L913.8 558.0L914.5 559.4L915.1 560.8L915.7 562.2L916.3 563.5L917.0 564.9L917.6 566.3L918.2 567.6L918.9 569.0L919.6 570.3L920.2 571.7L920.9 573.0L921.6 574.4L922.2 575.7L922.9 577.1L923.5 578.4L924.2 579.8L924.8 581.2L925.4 582.5L926.0 583.9L926.6 585.3L927.2 586.7L927.8 588.1L928.4 589.4L929.0 590.8L929.6 592.2L930.2 593.6L930.9 594.9L931.5 596.3L932.1 597.7L932.7 599.0L933.4 600.4L934.0 601.8L934.6 603.1L935.2 604.5L935.8 605.9L936.5 607.3L937.1 608.6L937.7 610.0L938.3 611.4L938.9 612.8L939.5 614.1L940.1 615.5L940.7 616.9L941.3 618.3L941.9 619.6L942.6 621.0L943.2 622.4L943.8 623.8L944.4 625.1L945.1 626.5L945.7 627.9L946.4 629.2L947.0 630.6L947.6 631.9L948.3 633.3L948.9 634.7L949.6 636.0L950.2 637.4L950.8 638.8L951.4 640.1L952.0 641.5L952.7 642.9L953.3 644.3L953.9 645.6L954.5 647.0" fill="none" stroke="#FFA500" stroke-width="5.40" stroke-linecap="square" stroke-linejoin="round"/>
<polygon points="866.43,236.26 870.80,240.63 875.17,236.26 879.54,240.63 875.17,245.00 879.54,249.37 875.17,253.74 870.80,249.37 866.43,253.74 862.06,249.37 866.43,245.00 862.06,240.63" fill="#B22222" stroke="#FFA500" stroke-width="2.33" stroke-linejoin="miter"/>
<polygon points="879.63,430.86 884.00,435.23 888.37,430.86 892.74,435.23 888.37,439.60 892.74,443.97 888.37,448.34 884.00,443.97 879.63,448.34 875.26,443.97 879.63,439.60 875.26,435.23" fill="#B22222" stroke="#FFA500" stroke-width="2.33" stroke-linejoin="miter"/>
<polygon points="892.83,502.86 897.20,507.23 901.57,502.86 905.94,507.23 901.57,511.60 905.94,515.97 901.57,520.34 897.20,515.97 892.83,520.34 888.46,515.97 892.83,511.60 888.46,507.23" fill="#B22222" stroke="#FFA500" stroke-width="2.33" stroke-linejoin="miter"/>
<polygon points="906.03,541.26 910.40,545.63 914.77,541.26 919.14,545.63 914.77,550.00 919.14,554.37 914.77,558.74 910.40,554.37 906.03,558.74 901.66,554.37 906.03,550.00 901.66,545.63" fill="#B22222" stroke="#FFA500" stroke-width="2.33" stroke-linejoin="miter"/>
<polygon points="919.23,569.86 923.60,574.23 927.97,569.86 932.34,574.23 927.97,578.60 932.34,582.97 927.97,587.34 923.60,582.97 919.23,587.34 914.86,582.97 919.23,578.60 914.86,574.23" fill="#B22222" stroke="#FFA500" stroke-width="2.33" stroke-linejoin="miter"/>
<polygon points="932.43,599.26 936.80,603.63 941.17,599.26 945.54,603.63 941.17,608.00 945.54,612.37 941.17,616.74 936.80,612.37 932.43,616.74 928.06,612.37 932.43,608.00 928.06,603.63" fill="#B22222" stroke="#FFA500" stroke-width="2.33" stroke-linejoin="miter"/>
<polygon points="945.63,628.26 950.00,632.63 954.37,628.26 958.74,632.63 954.37,637.00 958.74,641.37 954.37,645.74 950.00,641.37 945.63,645.74 941.26,641.37 945.63,637.00 941.26,632.63" fill="#B22222" stroke="#FFA500" stroke-width="2.33" stroke-linejoin="miter"/>
<path d="M864.2 6.0L864.2 7.5L864.3 9.0L864.3 10.5L864.4 12.0L864.4 13.5L864.4 15.0L864.5 16.5L864.5 18.0L864.5 19.5L864.6 21.0L864.6 22.5L864.6 24.0L864.7 25.5L864.7 27.0L864.7 28.5L864.8 30.1L864.8 31.6L864.8 33.1L864.8 34.6L864.9 36.1L864.9 37.6L864.9 39.1L865.0 40.6L865.0 42.1L865.0 43.6L865.1 45.1L865.1 46.6L865.1 48.1L865.2 49.6L865.2 51.1L865.2 52.6L865.2 54.1L865.3 55.6L865.3 57.1L865.3 58.6L865.4 60.1L865.4 61.6L865.4 63.1L865.5 64.6L865.5 66.1L865.5 67.6L865.5 69.1L865.6 70.6L865.6 72.1L865.6 73.6L865.7 75.2L865.7 76.7L865.7 78.2L865.8 79.7L865.8 81.2L865.8 82.7L865.9 84.2L865.9 85.7L865.9 87.2L866.0 88.7L866.0 90.2L866.0 91.7L866.1 93.2L866.1 94.7L866.1 96.2L866.2 97.7L866.2 99.2L866.3 100.7L866.3 102.2L866.3 103.7L866.4 105.2L866.4 106.7L866.4 108.2L866.5 109.7L866.5 111.2L866.6 112.7L866.6 114.2L866.6 115.7L866.7 117.2L866.7 118.7L866.8 120.2L866.8 121.7L866.8 123.3L866.9 124.8L866.9 126.3L867.0 127.8L867.0 129.3L867.0 130.8L867.1 132.3L867.1 133.8L867.2 135.3L867.2 136.8L867.3 138.3L867.3 139.8L867.3 141.3L867.4 142.8L867.4 144.3L867.5 145.8L867.5 147.3L867.5 148.8L867.6 150.3L867.6 151.8L867.7 153.3L867.7 154.8L867.7 156.3L867.8 157.8L867.8 159.3L867.9 160.8L867.9 162.3L867.9 163.8L868.0 165.3L868.0 166.8L868.1 168.3L868.1 169.8L868.1 171.4L868.2 172.9L868.2 174.4L868.3 175.9L868.3 177.4L868.3 178.9L868.4 180.4L868.4 181.9L868.4 183.4L868.5 184.9L868.5 186.4L868.6 187.9L868.6 189.4L868.6 190.9L868.7 192.4L868.7 193.9L868.8 195.4L868.8 196.9L868.8 198.4L868.9 199.9L868.9 201.4L868.9 202.9L869.0 204.4L869.0 205.9L869.1 207.4L869.1 208.9L869.1 210.4L869.2 211.9L869.2 213.4L869.3 214.9L869.3 216.4L869.3 217.9L869.4 219.4L869.4 221.0L869.5 222.5L869.5 224.0L869.5 225.5L869.6 227.0L869.6 228.5L869.7 230.0L869.7 231.5L869.7 233.0L869.8 234.5L869.8 236.0L869.9 237.5L869.9 239.0L869.9 240.5L870.0 242.0L870.0 243.5L870.1 245.0L870.1 246.5L870.2 248.0L870.2 249.5L870.2 251.0L870.3 252.5L870.3 254.0L870.4 255.5L870.4 257.0L870.4 258.5L870.5 260.0L870.5 261.5L870.6 263.0L870.6 264.5L870.7 266.0L870.7 267.5L870.8 269.1L870.8 270.6L870.9 272.1L870.9 273.6L871.0 275.1L871.0 276.6L871.1 278.1L871.1 279.6L871.2 281.1L871.2 282.6L871.3 284.1L871.4 285.6L871.4 287.1L871.5 288.6L871.5 290.1L871.6 291.6L871.7 293.1L871.7 294.6L871.8 296.1L871.9 297.6L871.9 299.1L872.0 300.6L872.1 302.1L872.1 303.6L872.2 305.1L872.3 306.6L872.3 308.1L872.4 309.6L872.4 311.1L872.5 312.6L872.6 314.1L872.6 315.6L872.7 317.1L872.8 318.6L872.8 320.1L872.9 321.6L872.9 323.1L873.0 324.6L873.1 326.1L873.1 327.6L873.2 329.1L873.3 330.6L873.3 332.2L873.4 333.7L873.4 335.2L873.5 336.7L873.6 338.2L873.6 339.7L873.7 341.2L873.8 342.7L873.8 344.2L873.9 345.7L873.9 347.2L874.0 348.7L874.1 350.2L874.1 351.7L874.2 353.2L874.3 354.7L874.3 356.2L874.4 357.7L874.5 359.2L874.6 360.7L874.6 362.2L874.7 363.7L874.8 365.2L874.8 366.7L874.9 368.2L875.0 369.7L875.1 371.2L875.1 372.7L875.2 374.2L875.3 375.7L875.4 377.2L875.4 378.7L875.5 380.2L875.6 381.7L875.7 383.2L875.8 384.7L875.8 386.2L875.9 387.7L876.0 389.2L876.1 390.7L876.2 392.2L876.3 393.7L876.3 395.2L876.4 396.7L876.5 398.2L876.6 399.7L876.7 401.2L876.8 402.7L876.9 404.2L877.0 405.7L877.1 407.2L877.1 408.7L877.2 410.2L877.3 411.7L877.4 413.2L877.5 414.7L877.6 416.2L877.7 417.7L877.8 419.2L877.9 420.7L878.0 422.2L878.1 423.7L878.2 425.2L878.3 426.7L878.4 428.2L878.5 429.7L878.6 431.2L878.8 432.7L878.9 434.2L879.0 435.7L879.1 437.2L879.2 438.7L879.3 440.2L879.4 441.7L879.6 443.2L879.7 444.7L879.8 446.2L879.9 447.7L880.0 449.2L880.2 450.7L880.3 452.2L880.4 453.7L880.5 455.2L880.7 456.7L880.8 458.2L880.9 459.7L881.1 461.2L881.2 462.7L881.3 464.2L881.5 465.7L881.6 467.2L881.7 468.7L881.9 470.2L882.0 471.7L882.2 473.2L882.3 474.7L882.4 476.2L882.6 477.7L882.7 479.2L882.9 480.7L883.0 482.2L883.2 483.7L883.3 485.2L883.5 486.7L883.7 488.2L883.8 489.7L884.0 491.2L884.1 492.6L884.3 494.1L884.5 495.6L884.7 497.1L884.8 498.6L885.0 500.1L885.2 501.6L885.4 503.1L885.6 504.6L885.8 506.1L886.0 507.6L886.2 509.1L886.4 510.5L886.6 512.0L886.8 513.5L887.0 515.0L887.2 516.5L887.4 518.0L887.7 519.5L887.9 521.0L888.1 522.5L888.4 523.9L888.6 525.4L888.8 526.9L889.1 528.4L889.3 529.9L889.6 531.4L889.8 532.8L890.1 534.3L890.3 535.8L890.6 537.3L890.8 538.8L891.1 540.2L891.4 541.7L891.7 543.2L891.9 544.7L892.2 546.2L892.5 547.6L892.8 549.1L893.1 550.6L893.4 552.1L893.7 553.5L894.0 555.0L894.4 556.5L894.7 557.9L895.0 559.4L895.3 560.9L895.6 562.3L896.0 563.8L896.3 565.3L896.6 566.7L896.9 568.2L897.3 569.7L897.6 571.2L897.9 572.6L898.3 574.1L898.6 575.6L899.0 577.0L899.4 578.5L899.7 579.9L900.1 581.4L900.5 582.9L900.9 584.3L901.3 585.7L901.7 587.2L902.2 588.6L902.6 590.0L903.1 591.5L903.6 592.9L904.1 594.4L904.6 595.8L905.1 597.3L905.6 598.7L906.1 600.1L906.7 601.5L907.3 602.9L907.9 604.3L908.6 605.6L909.2 606.9L909.9 608.2L910.7 609.5" fill="none" stroke="#DC143C" stroke-width="5.40" stroke-dasharray="19.8 8.5" stroke-dashoffset="-5.0" stroke-linejoin="round"/>
<path d="M910.7 609.5L911.5 610.7L912.4 611.9L913.4 613.0L914.4 614.2L915.5 615.3L916.5 616.4L917.6 617.4L918.7 618.4L919.9 619.4L921.2 620.3L922.6 621.1L923.9 622.0L925.2 622.9L926.4 623.8L927.4 624.8L928.2 625.9L928.9 627.1L929.5 628.5L929.9 630.0L930.3 631.5L930.5 633.0L930.7 634.6L931.0 636.1L931.3 637.4L931.9 638.5L932.7 639.6L933.6 640.7L934.8 641.7L936.0 642.6L937.3 643.6L938.7 644.5L940.0 645.5L941.3 646.4L942.6 647.4L943.7 648.4L944.8 649.5L945.8 650.6L946.7 651.8L947.7 652.9L948.7 654.1L949.7 655.2L950.8 656.3L951.8 657.3L952.9 658.4L954.0 659.4L955.0 660.5L956.1 661.5L957.2 662.5L958.4 663.5L959.5 664.5L960.7 665.5L961.8 666.5L963.0 667.4" fill="none" stroke="#DC143C" stroke-width="5.40" stroke-dasharray="19.8 8.5" stroke-dashoffset="-9.1" stroke-linejoin="round"/>
<circle cx="910.4" cy="609.0" r="8.74" fill="#F08080" stroke="#DC143C" stroke-width="2.33"/>
<circle cx="963.0" cy="667.4" r="8.74" fill="#F08080" stroke="#DC143C" stroke-width="2.33"/>
<path d="M869.7 6.0L869.8 7.5L869.8 9.0L869.9 10.5L869.9 12.0L870.0 13.5L870.0 15.0L870.1 16.5L870.2 18.0L870.2 19.5L870.3 21.0L870.3 22.5L870.4 24.0L870.4 25.5L870.5 27.0L870.6 28.5L870.6 30.0L870.7 31.5L870.7 33.0L870.8 34.5L870.8 36.1L870.9 37.6L870.9 39.1L871.0 40.6L871.1 42.1L871.1 43.6L871.2 45.1L871.2 46.6L871.3 48.1L871.3 49.6L871.4 51.1L871.5 52.6L871.5 54.1L871.6 55.6L871.6 57.1L871.7 58.6L871.8 60.1L871.8 61.6L871.9 63.1L871.9 64.6L872.0 66.1L872.1 67.6L872.1 69.1L872.2 70.6L872.2 72.1L872.3 73.6L872.4 75.1L872.4 76.6L872.5 78.1L872.5 79.6L872.6 81.1L872.7 82.6L872.7 84.1L872.8 85.6L872.9 87.1L872.9 88.6L873.0 90.1L873.1 91.6L873.1 93.1L873.2 94.6L873.3 96.1L873.3 97.6L873.4 99.1L873.5 100.6L873.6 102.2L873.6 103.7L873.7 105.2L873.8 106.7L873.8 108.2L873.9 109.7L874.0 111.2L874.0 112.7L874.1 114.2L874.2 115.7L874.3 117.2L874.3 118.7L874.4 120.2L874.5 121.7L874.6 123.2L874.6 124.7L874.7 126.2L874.8 127.7L874.9 129.2L874.9 130.7L875.0 132.2L875.1 133.7L875.2 135.2L875.2 136.7L875.3 138.2L875.4 139.7L875.5 141.2L875.6 142.7L875.6 144.2L875.7 145.7L875.8 147.2L875.9 148.7L876.0 150.2L876.1 151.7L876.1 153.2L876.2 154.7L876.3 156.2L876.4 157.7L876.5 159.2L876.6 160.7L876.7 162.2L876.7 163.7L876.8 165.2L876.9 166.7L877.0 168.2L877.1 169.7L877.2 171.2L877.3 172.7L877.4 174.2L877.5 175.7L877.6 177.2L877.7 178.7L877.8 180.2L877.9 181.7L878.1 183.2L878.2 184.7L878.3 186.2L878.4 187.7L878.5 189.2L878.6 190.7L878.7 192.2L878.9 193.7L879.0 195.2L879.1 196.7L879.2 198.2L879.3 199.7L879.4 201.2L879.5 202.7L879.6 204.2L879.7 205.7L879.8 207.2L879.9 208.7L880.0 210.2L880.1 211.7L880.2 213.2L880.3 214.7L880.4 216.2L880.4 217.7L880.5 219.2L880.6 220.7L880.7 222.2L880.8 223.7L880.8 225.2L880.9 226.7L881.0 228.2L881.1 229.7L881.1 231.2L881.2 232.7L881.3 234.2L881.3 235.7L881.4 237.2L881.5 238.7L881.6 240.2L881.7 241.7L881.7 243.2L881.8 244.7L881.9 246.2L882.0 247.7L882.1 249.3L882.2 250.8L882.2 252.3L882.3 253.8L882.4 255.3L882.5 256.8L882.6 258.3L882.7 259.8L882.8 261.3L882.8 262.8L882.9 264.3L883.0 265.8L883.1 267.3L883.2 268.8L883.3 270.3L883.4 271.8L883.5 273.3L883.6 274.8L883.7 276.3L883.8 277.8L883.9 279.3L884.1 280.8L884.2 282.3L884.3 283.8L884.4 285.3L884.6 286.8L884.7 288.2L884.9 289.7L885.0 291.2L885.2 292.7L885.3 294.2L885.5 295.7L885.7 297.2L885.8 298.7L886.0 300.2L886.1 301.7L886.3 303.2L886.5 304.7L886.6 306.2L886.8 307.7L886.9 309.2L887.1 310.7L887.2 312.2L887.4 313.7L887.5 315.2L887.7 316.7L887.8 318.2L888.0 319.7L888.1 321.2L888.2 322.7L888.4 324.2L888.5 325.6L888.7 327.1L888.8 328.6L889.0 330.1L889.1 331.6L889.3 333.1L889.4 334.6L889.6 336.1L889.7 337.6L889.8 339.1L890.0 340.6L890.1 342.1L890.3 343.6L890.4 345.1L890.6 346.6L890.7 348.1L890.9 349.6L891.1 351.1L891.2 352.6L891.4 354.1L891.5 355.6L891.7 357.1L891.8 358.6L892.0 360.1L892.2 361.5L892.3 363.0L892.5 364.5L892.7 366.0L892.8 367.5L893.0 369.0L893.2 370.5L893.3 372.0L893.5 373.5L893.6 375.0L893.8 376.5L894.0 378.0L894.2 379.5L894.3 381.0L894.5 382.5L894.7 384.0L894.8 385.5L895.0 387.0L895.2 388.5L895.4 389.9L895.6 391.4L895.7 392.9L895.9 394.4L896.1 395.9L896.3 397.4L896.5 398.9L896.7 400.4L896.9 401.9L897.1 403.4L897.3 404.9L897.5 406.3L897.7 407.8L897.9 409.3L898.1 410.8L898.3 412.3L898.6 413.8L898.8 415.3L899.0 416.8L899.2 418.2L899.5 419.7L899.7 421.2L899.9 422.7L900.2 424.2L900.4 425.7L900.7 427.2L900.9 428.6L901.2 430.1L901.4 431.6L901.7 433.1L902.0 434.6L902.2 436.1L902.5 437.5L902.8 439.0L903.1 440.5L903.4 442.0L903.7 443.4L903.9 444.9L904.2 446.4L904.5 447.9L904.9 449.3L905.2 450.8L905.5 452.3L905.8 453.7L906.2 455.2L906.5 456.6L906.9 458.1L907.3 459.6L907.7 461.0L908.1 462.5L908.4 463.9L908.8 465.4L909.2 466.8L909.6 468.3L910.0 469.7L910.4 471.2L910.9 472.6L911.3 474.1L911.7 475.5L912.1 476.9L912.6 478.4L913.0 479.8L913.4 481.3L913.9 482.7L914.3 484.1L914.8 485.6L915.2 487.0L915.7 488.4L916.1 489.9L916.6 491.3L917.0 492.7L917.5 494.2L917.9 495.6L918.3 497.1L918.7 498.5L919.1 500.0L919.5 501.4L919.9 502.9L920.3 504.3L920.7 505.8L921.1 507.3L921.5 508.7L921.8 510.2L922.2 511.6L922.6 513.1L923.0 514.5L923.4 516.0L923.9 517.4L924.3 518.8L924.7 520.3L925.2 521.7L925.7 523.1L926.2 524.5L926.7 525.9L927.2 527.3L927.8 528.7L928.3 530.1L928.9 531.5L929.5 532.9L930.1 534.3L930.7 535.7L931.3 537.0L932.0 538.4L932.6 539.8L933.3 541.1L933.9 542.5L934.6 543.9L935.3 545.2L936.0 546.5L936.7 547.9L937.4 549.2L938.1 550.5L938.8 551.8L939.5 553.2L940.3 554.5L941.0 555.8L941.8 557.0L942.5 558.3L943.3 559.6L944.2 560.9L945.0 562.1L945.8 563.4L946.7 564.6L947.5 565.9L948.4 567.1L949.3 568.3L950.2 569.5L951.1 570.8L952.0 572.0L952.9 573.1L953.8 574.3L954.7 575.5L955.7 576.7L956.7 577.8L957.6 579.0L958.6 580.1L959.6 581.3L960.6 582.4L961.6 583.5L962.6 584.6" fill="none" stroke="#FFD700" stroke-width="5.40" stroke-dasharray="19.8 8.5" stroke-dashoffset="-5.0" stroke-linejoin="round"/>
<path d="M962.6 584.6L963.6 585.7L964.7 586.8L965.7 587.9L966.7 589.0L967.8 590.1L968.8 591.2L969.9 592.3L970.9 593.3L972.0 594.4L973.1 595.5L974.2 596.5L975.3 597.6L976.4 598.6L977.5 599.6L978.6 600.6L979.7 601.6L980.9 602.6L982.0 603.5L983.2 604.4L984.4 605.3L985.6 606.2L986.8 607.1L988.0 608.0L989.3 608.8L990.5 609.6L991.8 610.5L993.0 611.3L994.3 612.1L995.5 613.0L996.8 613.8L998.1 614.6L999.3 615.5L1000.5 616.4L1001.8 617.2L1003.0 618.1L1004.3 618.9L1005.6 619.8L1006.8 620.6L1008.1 621.4L1009.4 622.3L1010.6 623.2L1011.8 624.1L1013.0 625.0L1014.1 625.9L1015.2 626.9L1016.3 627.9" fill="none" stroke="#FFD700" stroke-width="5.40" stroke-dasharray="19.8 8.5" stroke-dashoffset="-21.1" stroke-linejoin="round"/>
<path d="M1016.3 627.9L1017.3 628.9L1018.3 630.0L1019.2 631.2L1020.1 632.4L1021.0 633.6L1021.9 634.8L1022.8 636.1L1023.6 637.3L1024.5 638.6L1025.4 639.9L1026.2 641.1L1027.1 642.3L1028.0 643.6L1028.9 644.7L1029.9 645.9L1030.9 647.0L1031.9 648.1L1033.0 649.2L1034.1 650.2L1035.2 651.2L1036.3 652.3L1037.4 653.3L1038.6 654.3L1039.7 655.3L1040.8 656.4L1041.8 657.4L1042.9 658.5L1043.9 659.6L1044.8 660.8L1045.7 661.9L1046.6 663.2L1047.4 664.4L1048.2 665.7L1049.0 667.0" fill="none" stroke="#FFD700" stroke-width="5.40" stroke-dasharray="19.8 8.5" stroke-dashoffset="-3.3" stroke-linejoin="round"/>
<circle cx="910.4" cy="471.0" r="8.74" fill="#FFFF00" stroke="#FFD700" stroke-width="2.33"/>
<circle cx="963.0" cy="585.0" r="8.74" fill="#FFFF00" stroke="#FFD700" stroke-width="2.33"/>
<circle cx="1016.0" cy="627.6" r="8.74" fill="#FFFF00" stroke="#FFD700" stroke-width="2.33"/>
</g>
<rect x="831.6" y="14.0" width="583.2" height="694.8" fill="none" stroke="#000" stroke-width="2.05"/>
<line x1="857.6" y1="708.8" x2="857.6" y2="717.3" stroke="#000" stroke-width="2.05"/>
<text x="857.6" y="749.8" text-anchor="middle" font-size="32.6">0</text>
<line x1="989.7" y1="708.8" x2="989.7" y2="717.3" stroke="#000" stroke-width="2.05"/>
<text x="989.7" y="749.8" text-anchor="middle" font-size="32.6">500</text>
<line x1="1121.7" y1="708.8" x2="1121.7" y2="717.3" stroke="#000" stroke-width="2.05"/>
<text x="1121.7" y="749.8" text-anchor="middle" font-size="32.6">1000</text>
<line x1="1253.8" y1="708.8" x2="1253.8" y2="717.3" stroke="#000" stroke-width="2.05"/>
<text x="1253.8" y="749.8" text-anchor="middle" font-size="32.6">1500</text>
<line x1="1385.8" y1="708.8" x2="1385.8" y2="717.3" stroke="#000" stroke-width="2.05"/>
<text x="1385.8" y="749.8" text-anchor="middle" font-size="32.6">2000</text>
<line x1="823.1" y1="708.8" x2="831.6" y2="708.8" stroke="#000" stroke-width="2.05"/>
<text x="815.1" y="721.0" text-anchor="end" font-size="32.6">0.0</text>
<line x1="823.1" y1="593.0" x2="831.6" y2="593.0" stroke="#000" stroke-width="2.05"/>
<text x="815.1" y="605.2" text-anchor="end" font-size="32.6">0.2</text>
<line x1="823.1" y1="477.2" x2="831.6" y2="477.2" stroke="#000" stroke-width="2.05"/>
<text x="815.1" y="489.4" text-anchor="end" font-size="32.6">0.4</text>
<line x1="823.1" y1="361.4" x2="831.6" y2="361.4" stroke="#000" stroke-width="2.05"/>
<text x="815.1" y="373.6" text-anchor="end" font-size="32.6">0.6</text>
<line x1="823.1" y1="245.6" x2="831.6" y2="245.6" stroke="#000" stroke-width="2.05"/>
<text x="815.1" y="257.8" text-anchor="end" font-size="32.6">0.8</text>
<line x1="823.1" y1="129.8" x2="831.6" y2="129.8" stroke="#000" stroke-width="2.05"/>
<text x="815.1" y="142.0" text-anchor="end" font-size="32.6">1.0</text>
<line x1="823.1" y1="14.0" x2="831.6" y2="14.0" stroke="#000" stroke-width="2.05"/>
<text x="815.1" y="26.2" text-anchor="end" font-size="32.6">1.2</text>
<text x="1123.7" y="790.45" text-anchor="middle" font-size="32.6">Communication Rounds</text>
<text transform="translate(747.2 359.2) rotate(-90)" text-anchor="middle" font-size="32.75">Testing Loss</text>
<rect x="1049.9" y="27.8" width="350.8" height="294.7" rx="4.7" ry="4.7" fill="#fff" fill-opacity="0.8" stroke="#ccc" stroke-opacity="0.8" stroke-width="2.8"/>
<line x1="1061.2" y1="50.0" x2="1117.1" y2="50.0" stroke="#6A5ACD" stroke-width="5.40" stroke-dasharray="19.8 8.5"/>
<circle cx="1089.2" cy="50.0" r="8.74" fill="#000080" stroke="#6A5ACD" stroke-width="2.33"/>
<text x="1139.1" y="59.8" font-size="28.0"><tspan font-style="oblique">E</tspan><tspan dx="5.5">=</tspan><tspan dx="5.5">1</tspan><tspan>,</tspan><tspan dx="5.2" font-style="oblique">B</tspan><tspan dx="5.5">=</tspan><tspan dx="5.5" dy="-1.3">∞</tspan></text>
<line x1="1061.2" y1="91.0" x2="1117.1" y2="91.0" stroke="#008000" stroke-width="5.40" stroke-dasharray="19.8 8.5"/>
<circle cx="1089.2" cy="91.0" r="8.74" fill="#00FFFF" stroke="#008000" stroke-width="2.33"/>
<text x="1139.1" y="100.8" font-size="28.0">E=1, B=8, C=10</text>
<line x1="1061.2" y1="132.0" x2="1117.1" y2="132.0" stroke="#008000" stroke-width="5.40" stroke-linecap="square"/>
<polygon points="1084.78,123.26 1089.15,127.63 1093.52,123.26 1097.89,127.63 1093.52,132.00 1097.89,136.37 1093.52,140.74 1089.15,136.37 1084.78,140.74 1080.41,136.37 1084.78,132.00 1080.41,127.63" fill="#00FFFF" stroke="#008000" stroke-width="2.33" stroke-linejoin="miter"/>
<text x="1139.1" y="141.8" font-size="28.0">E=5, B=8, C=10</text>
<line x1="1061.2" y1="173.0" x2="1117.1" y2="173.0" stroke="#FFA500" stroke-width="5.40" stroke-dasharray="19.8 8.5"/>
<circle cx="1089.2" cy="173.0" r="8.74" fill="#B22222" stroke="#FFA500" stroke-width="2.33"/>
<text x="1139.1" y="182.8" font-size="28.0">E=1, B=32, C=10</text>
<line x1="1061.2" y1="214.0" x2="1117.1" y2="214.0" stroke="#FFA500" stroke-width="5.40" stroke-linecap="square"/>
<polygon points="1084.78,205.26 1089.15,209.63 1093.52,205.26 1097.89,209.63 1093.52,214.00 1097.89,218.37 1093.52,222.74 1089.15,218.37 1084.78,222.74 1080.41,218.37 1084.78,214.00 1080.41,209.63" fill="#B22222" stroke="#FFA500" stroke-width="2.33" stroke-linejoin="miter"/>
<text x="1139.1" y="223.8" font-size="28.0">E=5, B=32, C=10</text>
<line x1="1061.2" y1="255.0" x2="1117.1" y2="255.0" stroke="#DC143C" stroke-width="5.40" stroke-dasharray="19.8 8.5"/>
<circle cx="1089.2" cy="255.0" r="8.74" fill="#F08080" stroke="#DC143C" stroke-width="2.33"/>
<text x="1139.1" y="264.8" font-size="28.0">E=1, B=8, C=20</text>
<line x1="1061.2" y1="296.0" x2="1117.1" y2="296.0" stroke="#FFD700" stroke-width="5.40" stroke-dasharray="19.8 8.5"/>
<circle cx="1089.2" cy="296.0" r="8.74" fill="#FFFF00" stroke="#FFD700" stroke-width="2.33"/>
<text x="1139.1" y="305.8" font-size="28.0">E=1, B=8, C=50</text>
</svg>
</body>
</html>
